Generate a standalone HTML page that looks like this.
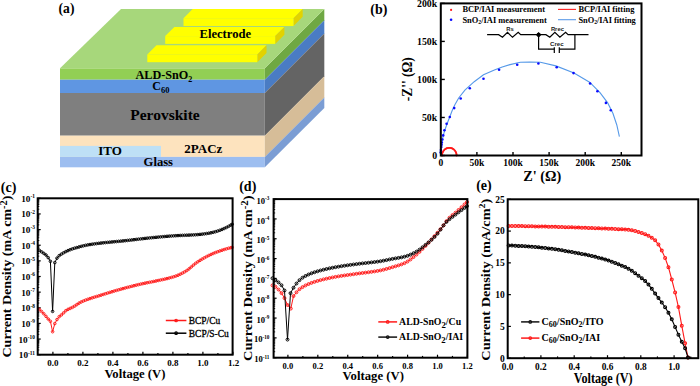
<!DOCTYPE html>
<html><head><meta charset="utf-8"><style>
html,body{margin:0;padding:0;background:#fff;}
svg{display:block;font-family:"Liberation Serif", serif;}
</style></head><body>
<svg width="700" height="386" viewBox="0 0 700 386">
<rect x="60" y="68.3" width="204.8" height="11.4" fill="#92cf54"/>
<polygon points="264.8,68.3 324.3,8.9 324.3,20.3 264.8,79.7" fill="#6fa843"/>
<rect x="60" y="79.7" width="204.8" height="13.3" fill="#5f96e2"/>
<polygon points="264.8,79.7 324.3,20.3 324.3,33.6 264.8,93" fill="#4a7cc4"/>
<rect x="60" y="93" width="204.8" height="42.7" fill="#7f7f7f"/>
<polygon points="264.8,93 324.3,33.6 324.3,76.3 264.8,135.7" fill="#646464"/>
<rect x="60" y="135.7" width="204.8" height="21.2" fill="#fde3be"/>
<polygon points="264.8,135.7 324.3,76.3 324.3,97.5 264.8,156.9" fill="#d6bd98"/>
<rect x="60" y="156.9" width="204.8" height="10.4" fill="#9dbef0"/>
<polygon points="264.8,156.9 324.3,97.5 324.3,107.9 264.8,167.3" fill="#7b9dd4"/>
<rect x="60" y="145.9" width="101" height="11" fill="#bee0f6"/>
<polygon points="60,68.3 264.8,68.3 324.3,8.9 121,8.9" fill="#a7d77b"/>
<polygon points="183.5,18.2 293.5,18.2 302.7,9 192.7,9" fill="#ffff00"/>
<polygon points="293.5,18.2 302.7,9 302.7,16.8 293.5,26" fill="#e2d200"/>
<rect x="183.5" y="18.2" width="110" height="7.8" fill="#ffff00"/>
<polygon points="165.2,36.1 275.2,36.1 284.4,26.9 174.4,26.9" fill="#ffff00"/>
<polygon points="275.2,36.1 284.4,26.9 284.4,34.7 275.2,43.9" fill="#e2d200"/>
<rect x="165.2" y="36.1" width="110" height="7.8" fill="#ffff00"/>
<polygon points="147.3,54.4 257.3,54.4 266.5,45.2 156.5,45.2" fill="#ffff00"/>
<polygon points="257.3,54.4 266.5,45.2 266.5,53 257.3,62.2" fill="#e2d200"/>
<rect x="147.3" y="54.4" width="110" height="7.8" fill="#ffff00"/>
<text x="58.6" y="12.7" font-size="13.6" font-weight="bold" text-anchor="start" >(a)</text>
<text x="225.3" y="37.7" font-size="12.6" font-weight="bold" text-anchor="middle" >Electrode</text>
<text x="135.5" y="78.9" font-size="12.2" font-weight="bold" text-anchor="start" >ALD-SnO<tspan font-size="8" dy="3.2">2</tspan></text>
<text x="152.3" y="90" font-size="12" font-weight="bold" text-anchor="start" >C<tspan font-size="8.5" dy="2.5">60</tspan></text>
<text x="165" y="120" font-size="15.5" font-weight="bold" text-anchor="middle" >Perovskite</text>
<text x="110" y="155" font-size="13" font-weight="bold" text-anchor="middle" >ITO</text>
<text x="203.3" y="152.6" font-size="13" font-weight="bold" text-anchor="middle" >2PACz</text>
<text x="158.3" y="166.2" font-size="12.6" font-weight="bold" text-anchor="middle" >Glass</text>
<text x="370.3" y="13.6" font-size="14" font-weight="bold" text-anchor="start" >(b)</text>
<circle cx="442" cy="155.5" r="0.9" fill="#ff1a1a"/>
<circle cx="442.03" cy="154.83" r="0.9" fill="#ff1a1a"/>
<circle cx="442.11" cy="154.16" r="0.9" fill="#ff1a1a"/>
<circle cx="442.25" cy="153.51" r="0.9" fill="#ff1a1a"/>
<circle cx="442.44" cy="152.87" r="0.9" fill="#ff1a1a"/>
<circle cx="442.68" cy="152.25" r="0.9" fill="#ff1a1a"/>
<circle cx="442.98" cy="151.65" r="0.9" fill="#ff1a1a"/>
<circle cx="443.32" cy="151.08" r="0.9" fill="#ff1a1a"/>
<circle cx="443.71" cy="150.55" r="0.9" fill="#ff1a1a"/>
<circle cx="444.14" cy="150.06" r="0.9" fill="#ff1a1a"/>
<circle cx="444.61" cy="149.6" r="0.9" fill="#ff1a1a"/>
<circle cx="445.11" cy="149.19" r="0.9" fill="#ff1a1a"/>
<circle cx="445.65" cy="148.83" r="0.9" fill="#ff1a1a"/>
<circle cx="446.21" cy="148.52" r="0.9" fill="#ff1a1a"/>
<circle cx="446.8" cy="148.26" r="0.9" fill="#ff1a1a"/>
<circle cx="447.41" cy="148.06" r="0.9" fill="#ff1a1a"/>
<circle cx="448.03" cy="147.92" r="0.9" fill="#ff1a1a"/>
<circle cx="448.66" cy="147.83" r="0.9" fill="#ff1a1a"/>
<circle cx="449.3" cy="147.8" r="0.9" fill="#ff1a1a"/>
<circle cx="449.94" cy="147.83" r="0.9" fill="#ff1a1a"/>
<circle cx="450.57" cy="147.92" r="0.9" fill="#ff1a1a"/>
<circle cx="451.19" cy="148.06" r="0.9" fill="#ff1a1a"/>
<circle cx="451.8" cy="148.26" r="0.9" fill="#ff1a1a"/>
<circle cx="452.39" cy="148.52" r="0.9" fill="#ff1a1a"/>
<circle cx="452.95" cy="148.83" r="0.9" fill="#ff1a1a"/>
<circle cx="453.49" cy="149.19" r="0.9" fill="#ff1a1a"/>
<circle cx="453.99" cy="149.6" r="0.9" fill="#ff1a1a"/>
<circle cx="454.46" cy="150.06" r="0.9" fill="#ff1a1a"/>
<circle cx="454.89" cy="150.55" r="0.9" fill="#ff1a1a"/>
<circle cx="455.28" cy="151.08" r="0.9" fill="#ff1a1a"/>
<circle cx="455.62" cy="151.65" r="0.9" fill="#ff1a1a"/>
<circle cx="455.92" cy="152.25" r="0.9" fill="#ff1a1a"/>
<circle cx="456.16" cy="152.87" r="0.9" fill="#ff1a1a"/>
<circle cx="456.35" cy="153.51" r="0.9" fill="#ff1a1a"/>
<circle cx="456.49" cy="154.16" r="0.9" fill="#ff1a1a"/>
<circle cx="456.57" cy="154.83" r="0.9" fill="#ff1a1a"/>
<circle cx="456.6" cy="155.5" r="0.9" fill="#ff1a1a"/>
<polyline points="440.8,155.5 440.9,150 441.8,143 443,136.6 444.8,130.2 447.1,123.8 449.5,117.5 452.4,110 455,104.5 458.7,98 464.9,90.2 474.2,81.7 483.5,74.7 494.4,70 502.2,66.9 510,64.6 520.3,62.3 530,62 540.4,62.3 555.9,65.9 574,73.1 589.6,82.2 600,92.6 607.7,102.9 612.9,113.3 616.8,125 619.4,136.6" fill="none" stroke="#5599e8" stroke-width="1.1"/>
<circle cx="440.7" cy="152.4" r="1.3" fill="#0a0aff"/>
<circle cx="440.9" cy="150" r="1.3" fill="#0a0aff"/>
<circle cx="441.3" cy="147.1" r="1.3" fill="#0a0aff"/>
<circle cx="441.6" cy="144.8" r="1.3" fill="#0a0aff"/>
<circle cx="441.8" cy="142.5" r="1.3" fill="#0a0aff"/>
<circle cx="442.4" cy="139.5" r="1.3" fill="#0a0aff"/>
<circle cx="443.2" cy="135.4" r="1.3" fill="#0a0aff"/>
<circle cx="444.4" cy="130.2" r="1.3" fill="#0a0aff"/>
<circle cx="446.6" cy="123.8" r="1.3" fill="#0a0aff"/>
<circle cx="449.8" cy="117" r="1.3" fill="#0a0aff"/>
<circle cx="454.2" cy="108.1" r="1.3" fill="#0a0aff"/>
<circle cx="460.7" cy="98.5" r="1.3" fill="#0a0aff"/>
<circle cx="469.8" cy="88.2" r="1.3" fill="#0a0aff"/>
<circle cx="483.5" cy="78.8" r="1.3" fill="#0a0aff"/>
<circle cx="499.1" cy="69.8" r="1.3" fill="#0a0aff"/>
<circle cx="517.2" cy="64.8" r="1.3" fill="#0a0aff"/>
<circle cx="538.4" cy="63.5" r="1.3" fill="#0a0aff"/>
<circle cx="556.7" cy="67.2" r="1.3" fill="#0a0aff"/>
<circle cx="573.5" cy="73.1" r="1.3" fill="#0a0aff"/>
<circle cx="590.1" cy="83.5" r="1.3" fill="#0a0aff"/>
<circle cx="597.4" cy="91.3" r="1.3" fill="#0a0aff"/>
<circle cx="605.9" cy="102.9" r="1.3" fill="#0a0aff"/>
<circle cx="610.8" cy="110.2" r="1.3" fill="#0a0aff"/>
<rect x="440.8" y="3.4" width="200.7" height="152.1" fill="none" stroke="#000" stroke-width="2"/>
<line x1="440.8" y1="155.5" x2="444.8" y2="155.5" stroke="#000" stroke-width="1.4"/>
<text x="437.2" y="158.9" font-size="9.8" font-weight="bold" text-anchor="end" >0</text>
<line x1="440.8" y1="117.47" x2="444.8" y2="117.47" stroke="#000" stroke-width="1.4"/>
<text x="437.2" y="120.87" font-size="9.8" font-weight="bold" text-anchor="end" >50k</text>
<line x1="440.8" y1="79.44" x2="444.8" y2="79.44" stroke="#000" stroke-width="1.4"/>
<text x="437.2" y="82.84" font-size="9.8" font-weight="bold" text-anchor="end" >100k</text>
<line x1="440.8" y1="41.41" x2="444.8" y2="41.41" stroke="#000" stroke-width="1.4"/>
<text x="437.2" y="44.81" font-size="9.8" font-weight="bold" text-anchor="end" >150k</text>
<line x1="440.8" y1="3.38" x2="444.8" y2="3.38" stroke="#000" stroke-width="1.4"/>
<text x="437.2" y="6.78" font-size="9.8" font-weight="bold" text-anchor="end" >200k</text>
<line x1="440.8" y1="155.5" x2="440.8" y2="152" stroke="#000" stroke-width="1.4"/>
<text x="440.8" y="166.3" font-size="9.5" font-weight="bold" text-anchor="middle" >0</text>
<line x1="476.9" y1="155.5" x2="476.9" y2="152" stroke="#000" stroke-width="1.4"/>
<text x="476.9" y="166.3" font-size="9.5" font-weight="bold" text-anchor="middle" >50k</text>
<line x1="513" y1="155.5" x2="513" y2="152" stroke="#000" stroke-width="1.4"/>
<text x="513" y="166.3" font-size="9.5" font-weight="bold" text-anchor="middle" >100k</text>
<line x1="549.1" y1="155.5" x2="549.1" y2="152" stroke="#000" stroke-width="1.4"/>
<text x="549.1" y="166.3" font-size="9.5" font-weight="bold" text-anchor="middle" >150k</text>
<line x1="585.2" y1="155.5" x2="585.2" y2="152" stroke="#000" stroke-width="1.4"/>
<text x="585.2" y="166.3" font-size="9.5" font-weight="bold" text-anchor="middle" >200k</text>
<line x1="621.3" y1="155.5" x2="621.3" y2="152" stroke="#000" stroke-width="1.4"/>
<text x="621.3" y="166.3" font-size="9.5" font-weight="bold" text-anchor="middle" >250k</text>
<text x="542.2" y="180.6" font-size="15.5" font-weight="bold" text-anchor="middle" textLength="38" lengthAdjust="spacingAndGlyphs" >Z' (&#937;)</text>
<text x="0" y="0" font-size="14.5" font-weight="bold" text-anchor="middle" textLength="44" lengthAdjust="spacingAndGlyphs" transform="translate(411.8,79.2) rotate(-90)">-Z'' (&#937;)</text>
<circle cx="451.1" cy="9.9" r="1.1" fill="#ff1a1a"/>
<circle cx="451.1" cy="19.7" r="1.3" fill="#0a0aff"/>
<text x="462.4" y="12.3" font-size="8" font-weight="bold" text-anchor="start" textLength="82.6" lengthAdjust="spacingAndGlyphs" >BCP/IAI measurement</text>
<text x="462.4" y="22.6" font-size="8" font-weight="bold" text-anchor="start" textLength="84.4" lengthAdjust="spacingAndGlyphs" >SnO<tspan font-size="5.5" dy="1.8">2</tspan><tspan dy="-1.8">/IAI measurement</tspan></text>
<line x1="558" y1="9.4" x2="576" y2="9.4" stroke="#ff2020" stroke-width="1.1"/>
<line x1="558" y1="19.7" x2="576" y2="19.7" stroke="#5c9ae8" stroke-width="1.1"/>
<text x="578.4" y="12.3" font-size="8" font-weight="bold" text-anchor="start" textLength="56" lengthAdjust="spacingAndGlyphs" >BCP/IAI fitting</text>
<text x="578.4" y="22.6" font-size="8" font-weight="bold" text-anchor="start" textLength="57.4" lengthAdjust="spacingAndGlyphs" >SnO<tspan font-size="5.5" dy="1.8">2</tspan><tspan dy="-1.8">/IAI fitting</tspan></text>
<polyline points="487.1,34.7 498.6,34.7 502.49,37.3 507.51,32.3 512.52,37.3 518.2,32.3 520.7,34.7 545.9,34.7 549.81,37.3 554.85,32.3 559.89,37.3 565.59,32.3 568.1,34.7 588.5,34.7" fill="none" stroke="#000" stroke-width="1.2"/>
<polygon points="538.6,32 541.3,34.7 538.6,37.4 535.9,34.7" fill="#000"/>
<circle cx="538.6" cy="34.7" r="2" fill="#000"/>
<polyline points="538.6,34.7 538.6,49.2 554.3,49.2" fill="none" stroke="#000" stroke-width="1.2"/>
<polyline points="559.3,49.2 574.9,49.2 574.9,34.7" fill="none" stroke="#000" stroke-width="1.2"/>
<line x1="554.3" y1="47.2" x2="554.3" y2="52.9" stroke="#000" stroke-width="1.2"/>
<line x1="559.3" y1="47.2" x2="559.3" y2="52.9" stroke="#000" stroke-width="1.2"/>
<text x="510" y="30.6" font-size="5.8" font-weight="bold" text-anchor="middle" fill="#222" font-family="'Liberation Sans', sans-serif" >Rs</text>
<text x="557.4" y="30.6" font-size="5.8" font-weight="bold" text-anchor="middle" fill="#222" textLength="13" lengthAdjust="spacingAndGlyphs" font-family="'Liberation Sans', sans-serif" >Rrec</text>
<text x="556.8" y="45.6" font-size="5.8" font-weight="bold" text-anchor="middle" fill="#222" textLength="13.6" lengthAdjust="spacingAndGlyphs" font-family="'Liberation Sans', sans-serif" >Crec</text>
<text x="0.8" y="191.8" font-size="14" font-weight="bold" text-anchor="start" >(c)</text>
<line x1="37.7" y1="198.3" x2="40.7" y2="198.3" stroke="#000" stroke-width="1.2"/>
<text x="34.9" y="201.8" font-size="9.2" font-weight="bold" text-anchor="end">10<tspan font-size="5.4" dy="-3.6">-1</tspan></text>
<line x1="37.7" y1="209.23" x2="39.3" y2="209.23" stroke="#000" stroke-width="0.9"/>
<line x1="37.7" y1="206.48" x2="39.3" y2="206.48" stroke="#000" stroke-width="0.9"/>
<line x1="37.7" y1="204.52" x2="39.3" y2="204.52" stroke="#000" stroke-width="0.9"/>
<line x1="37.7" y1="203.01" x2="39.3" y2="203.01" stroke="#000" stroke-width="0.9"/>
<line x1="37.7" y1="201.77" x2="39.3" y2="201.77" stroke="#000" stroke-width="0.9"/>
<line x1="37.7" y1="200.72" x2="39.3" y2="200.72" stroke="#000" stroke-width="0.9"/>
<line x1="37.7" y1="199.82" x2="39.3" y2="199.82" stroke="#000" stroke-width="0.9"/>
<line x1="37.7" y1="199.02" x2="39.3" y2="199.02" stroke="#000" stroke-width="0.9"/>
<line x1="37.7" y1="213.94" x2="40.7" y2="213.94" stroke="#000" stroke-width="1.2"/>
<text x="34.9" y="217.44" font-size="9.2" font-weight="bold" text-anchor="end">10<tspan font-size="5.4" dy="-3.6">-2</tspan></text>
<line x1="37.7" y1="224.87" x2="39.3" y2="224.87" stroke="#000" stroke-width="0.9"/>
<line x1="37.7" y1="222.12" x2="39.3" y2="222.12" stroke="#000" stroke-width="0.9"/>
<line x1="37.7" y1="220.16" x2="39.3" y2="220.16" stroke="#000" stroke-width="0.9"/>
<line x1="37.7" y1="218.65" x2="39.3" y2="218.65" stroke="#000" stroke-width="0.9"/>
<line x1="37.7" y1="217.41" x2="39.3" y2="217.41" stroke="#000" stroke-width="0.9"/>
<line x1="37.7" y1="216.36" x2="39.3" y2="216.36" stroke="#000" stroke-width="0.9"/>
<line x1="37.7" y1="215.46" x2="39.3" y2="215.46" stroke="#000" stroke-width="0.9"/>
<line x1="37.7" y1="214.66" x2="39.3" y2="214.66" stroke="#000" stroke-width="0.9"/>
<line x1="37.7" y1="229.58" x2="40.7" y2="229.58" stroke="#000" stroke-width="1.2"/>
<text x="34.9" y="233.08" font-size="9.2" font-weight="bold" text-anchor="end">10<tspan font-size="5.4" dy="-3.6">-3</tspan></text>
<line x1="37.7" y1="240.51" x2="39.3" y2="240.51" stroke="#000" stroke-width="0.9"/>
<line x1="37.7" y1="237.76" x2="39.3" y2="237.76" stroke="#000" stroke-width="0.9"/>
<line x1="37.7" y1="235.8" x2="39.3" y2="235.8" stroke="#000" stroke-width="0.9"/>
<line x1="37.7" y1="234.29" x2="39.3" y2="234.29" stroke="#000" stroke-width="0.9"/>
<line x1="37.7" y1="233.05" x2="39.3" y2="233.05" stroke="#000" stroke-width="0.9"/>
<line x1="37.7" y1="232" x2="39.3" y2="232" stroke="#000" stroke-width="0.9"/>
<line x1="37.7" y1="231.1" x2="39.3" y2="231.1" stroke="#000" stroke-width="0.9"/>
<line x1="37.7" y1="230.3" x2="39.3" y2="230.3" stroke="#000" stroke-width="0.9"/>
<line x1="37.7" y1="245.22" x2="40.7" y2="245.22" stroke="#000" stroke-width="1.2"/>
<text x="34.9" y="248.72" font-size="9.2" font-weight="bold" text-anchor="end">10<tspan font-size="5.4" dy="-3.6">-4</tspan></text>
<line x1="37.7" y1="256.15" x2="39.3" y2="256.15" stroke="#000" stroke-width="0.9"/>
<line x1="37.7" y1="253.4" x2="39.3" y2="253.4" stroke="#000" stroke-width="0.9"/>
<line x1="37.7" y1="251.44" x2="39.3" y2="251.44" stroke="#000" stroke-width="0.9"/>
<line x1="37.7" y1="249.93" x2="39.3" y2="249.93" stroke="#000" stroke-width="0.9"/>
<line x1="37.7" y1="248.69" x2="39.3" y2="248.69" stroke="#000" stroke-width="0.9"/>
<line x1="37.7" y1="247.64" x2="39.3" y2="247.64" stroke="#000" stroke-width="0.9"/>
<line x1="37.7" y1="246.74" x2="39.3" y2="246.74" stroke="#000" stroke-width="0.9"/>
<line x1="37.7" y1="245.94" x2="39.3" y2="245.94" stroke="#000" stroke-width="0.9"/>
<line x1="37.7" y1="260.86" x2="40.7" y2="260.86" stroke="#000" stroke-width="1.2"/>
<text x="34.9" y="264.36" font-size="9.2" font-weight="bold" text-anchor="end">10<tspan font-size="5.4" dy="-3.6">-5</tspan></text>
<line x1="37.7" y1="271.79" x2="39.3" y2="271.79" stroke="#000" stroke-width="0.9"/>
<line x1="37.7" y1="269.04" x2="39.3" y2="269.04" stroke="#000" stroke-width="0.9"/>
<line x1="37.7" y1="267.08" x2="39.3" y2="267.08" stroke="#000" stroke-width="0.9"/>
<line x1="37.7" y1="265.57" x2="39.3" y2="265.57" stroke="#000" stroke-width="0.9"/>
<line x1="37.7" y1="264.33" x2="39.3" y2="264.33" stroke="#000" stroke-width="0.9"/>
<line x1="37.7" y1="263.28" x2="39.3" y2="263.28" stroke="#000" stroke-width="0.9"/>
<line x1="37.7" y1="262.38" x2="39.3" y2="262.38" stroke="#000" stroke-width="0.9"/>
<line x1="37.7" y1="261.58" x2="39.3" y2="261.58" stroke="#000" stroke-width="0.9"/>
<line x1="37.7" y1="276.5" x2="40.7" y2="276.5" stroke="#000" stroke-width="1.2"/>
<text x="34.9" y="280" font-size="9.2" font-weight="bold" text-anchor="end">10<tspan font-size="5.4" dy="-3.6">-6</tspan></text>
<line x1="37.7" y1="287.43" x2="39.3" y2="287.43" stroke="#000" stroke-width="0.9"/>
<line x1="37.7" y1="284.68" x2="39.3" y2="284.68" stroke="#000" stroke-width="0.9"/>
<line x1="37.7" y1="282.72" x2="39.3" y2="282.72" stroke="#000" stroke-width="0.9"/>
<line x1="37.7" y1="281.21" x2="39.3" y2="281.21" stroke="#000" stroke-width="0.9"/>
<line x1="37.7" y1="279.97" x2="39.3" y2="279.97" stroke="#000" stroke-width="0.9"/>
<line x1="37.7" y1="278.92" x2="39.3" y2="278.92" stroke="#000" stroke-width="0.9"/>
<line x1="37.7" y1="278.02" x2="39.3" y2="278.02" stroke="#000" stroke-width="0.9"/>
<line x1="37.7" y1="277.22" x2="39.3" y2="277.22" stroke="#000" stroke-width="0.9"/>
<line x1="37.7" y1="292.14" x2="40.7" y2="292.14" stroke="#000" stroke-width="1.2"/>
<text x="34.9" y="295.64" font-size="9.2" font-weight="bold" text-anchor="end">10<tspan font-size="5.4" dy="-3.6">-7</tspan></text>
<line x1="37.7" y1="303.07" x2="39.3" y2="303.07" stroke="#000" stroke-width="0.9"/>
<line x1="37.7" y1="300.32" x2="39.3" y2="300.32" stroke="#000" stroke-width="0.9"/>
<line x1="37.7" y1="298.36" x2="39.3" y2="298.36" stroke="#000" stroke-width="0.9"/>
<line x1="37.7" y1="296.85" x2="39.3" y2="296.85" stroke="#000" stroke-width="0.9"/>
<line x1="37.7" y1="295.61" x2="39.3" y2="295.61" stroke="#000" stroke-width="0.9"/>
<line x1="37.7" y1="294.56" x2="39.3" y2="294.56" stroke="#000" stroke-width="0.9"/>
<line x1="37.7" y1="293.66" x2="39.3" y2="293.66" stroke="#000" stroke-width="0.9"/>
<line x1="37.7" y1="292.86" x2="39.3" y2="292.86" stroke="#000" stroke-width="0.9"/>
<line x1="37.7" y1="307.78" x2="40.7" y2="307.78" stroke="#000" stroke-width="1.2"/>
<text x="34.9" y="311.28" font-size="9.2" font-weight="bold" text-anchor="end">10<tspan font-size="5.4" dy="-3.6">-8</tspan></text>
<line x1="37.7" y1="318.71" x2="39.3" y2="318.71" stroke="#000" stroke-width="0.9"/>
<line x1="37.7" y1="315.96" x2="39.3" y2="315.96" stroke="#000" stroke-width="0.9"/>
<line x1="37.7" y1="314" x2="39.3" y2="314" stroke="#000" stroke-width="0.9"/>
<line x1="37.7" y1="312.49" x2="39.3" y2="312.49" stroke="#000" stroke-width="0.9"/>
<line x1="37.7" y1="311.25" x2="39.3" y2="311.25" stroke="#000" stroke-width="0.9"/>
<line x1="37.7" y1="310.2" x2="39.3" y2="310.2" stroke="#000" stroke-width="0.9"/>
<line x1="37.7" y1="309.3" x2="39.3" y2="309.3" stroke="#000" stroke-width="0.9"/>
<line x1="37.7" y1="308.5" x2="39.3" y2="308.5" stroke="#000" stroke-width="0.9"/>
<line x1="37.7" y1="323.42" x2="40.7" y2="323.42" stroke="#000" stroke-width="1.2"/>
<text x="34.9" y="326.92" font-size="9.2" font-weight="bold" text-anchor="end">10<tspan font-size="5.4" dy="-3.6">-9</tspan></text>
<line x1="37.7" y1="334.35" x2="39.3" y2="334.35" stroke="#000" stroke-width="0.9"/>
<line x1="37.7" y1="331.6" x2="39.3" y2="331.6" stroke="#000" stroke-width="0.9"/>
<line x1="37.7" y1="329.64" x2="39.3" y2="329.64" stroke="#000" stroke-width="0.9"/>
<line x1="37.7" y1="328.13" x2="39.3" y2="328.13" stroke="#000" stroke-width="0.9"/>
<line x1="37.7" y1="326.89" x2="39.3" y2="326.89" stroke="#000" stroke-width="0.9"/>
<line x1="37.7" y1="325.84" x2="39.3" y2="325.84" stroke="#000" stroke-width="0.9"/>
<line x1="37.7" y1="324.94" x2="39.3" y2="324.94" stroke="#000" stroke-width="0.9"/>
<line x1="37.7" y1="324.14" x2="39.3" y2="324.14" stroke="#000" stroke-width="0.9"/>
<line x1="37.7" y1="339.06" x2="40.7" y2="339.06" stroke="#000" stroke-width="1.2"/>
<text x="34.9" y="342.56" font-size="9.2" font-weight="bold" text-anchor="end">10<tspan font-size="5.4" dy="-3.6">-10</tspan></text>
<line x1="37.7" y1="349.99" x2="39.3" y2="349.99" stroke="#000" stroke-width="0.9"/>
<line x1="37.7" y1="347.24" x2="39.3" y2="347.24" stroke="#000" stroke-width="0.9"/>
<line x1="37.7" y1="345.28" x2="39.3" y2="345.28" stroke="#000" stroke-width="0.9"/>
<line x1="37.7" y1="343.77" x2="39.3" y2="343.77" stroke="#000" stroke-width="0.9"/>
<line x1="37.7" y1="342.53" x2="39.3" y2="342.53" stroke="#000" stroke-width="0.9"/>
<line x1="37.7" y1="341.48" x2="39.3" y2="341.48" stroke="#000" stroke-width="0.9"/>
<line x1="37.7" y1="340.58" x2="39.3" y2="340.58" stroke="#000" stroke-width="0.9"/>
<line x1="37.7" y1="339.78" x2="39.3" y2="339.78" stroke="#000" stroke-width="0.9"/>
<line x1="37.7" y1="354.7" x2="40.7" y2="354.7" stroke="#000" stroke-width="1.2"/>
<text x="34.9" y="358.2" font-size="9.2" font-weight="bold" text-anchor="end">10<tspan font-size="5.4" dy="-3.6">-11</tspan></text>
<line x1="52.9" y1="354.7" x2="52.9" y2="351.7" stroke="#000" stroke-width="1.2"/>
<text x="52.9" y="365.6" font-size="9" font-weight="bold" text-anchor="middle" >0.0</text>
<line x1="67.9" y1="354.7" x2="67.9" y2="352.9" stroke="#000" stroke-width="1.2"/>
<line x1="82.9" y1="354.7" x2="82.9" y2="351.7" stroke="#000" stroke-width="1.2"/>
<text x="82.9" y="365.6" font-size="9" font-weight="bold" text-anchor="middle" >0.2</text>
<line x1="97.9" y1="354.7" x2="97.9" y2="352.9" stroke="#000" stroke-width="1.2"/>
<line x1="112.9" y1="354.7" x2="112.9" y2="351.7" stroke="#000" stroke-width="1.2"/>
<text x="112.9" y="365.6" font-size="9" font-weight="bold" text-anchor="middle" >0.4</text>
<line x1="127.9" y1="354.7" x2="127.9" y2="352.9" stroke="#000" stroke-width="1.2"/>
<line x1="142.9" y1="354.7" x2="142.9" y2="351.7" stroke="#000" stroke-width="1.2"/>
<text x="142.9" y="365.6" font-size="9" font-weight="bold" text-anchor="middle" >0.6</text>
<line x1="157.9" y1="354.7" x2="157.9" y2="352.9" stroke="#000" stroke-width="1.2"/>
<line x1="172.9" y1="354.7" x2="172.9" y2="351.7" stroke="#000" stroke-width="1.2"/>
<text x="172.9" y="365.6" font-size="9" font-weight="bold" text-anchor="middle" >0.8</text>
<line x1="187.9" y1="354.7" x2="187.9" y2="352.9" stroke="#000" stroke-width="1.2"/>
<line x1="202.9" y1="354.7" x2="202.9" y2="351.7" stroke="#000" stroke-width="1.2"/>
<text x="202.9" y="365.6" font-size="9" font-weight="bold" text-anchor="middle" >1.0</text>
<line x1="217.9" y1="354.7" x2="217.9" y2="352.9" stroke="#000" stroke-width="1.2"/>
<line x1="232.9" y1="354.7" x2="232.9" y2="351.7" stroke="#000" stroke-width="1.2"/>
<text x="233.5" y="365.6" font-size="9" font-weight="bold" text-anchor="middle" >1.2</text>
<polyline points="39.4,309.42 41.6,311.52 43.8,313.79 46,316.34 48.2,319.02 50.4,321.29 52.6,331.7 54.8,323.57 57,319.55 59.2,316.68 61.4,314.91 63.6,312.87 65.8,310.7 68,309.39 70.2,308.38 72.4,307.38 74.6,306.13 76.8,304.63 79,303.14 81.2,301.97 83.4,301 85.6,300.12 87.8,299.32 90,298.57 92.2,297.86 94.4,297.18 96.6,296.51 98.8,295.85 101,295.16 103.2,294.46 105.4,293.76 107.6,293.07 109.8,292.4 112,291.73 114.2,291.07 116.4,290.43 118.6,289.8 120.8,289.18 123,288.58 125.2,287.99 127.4,287.4 129.6,286.83 131.8,286.27 134,285.71 136.2,285.17 138.4,284.65 140.6,284.14 142.8,283.64 145,283.18 147.2,282.74 149.4,282.32 151.6,281.9 153.8,281.46 156,280.98 158.2,280.51 160.4,280.05 162.6,279.58 164.8,279.09 167,278.58 169.2,278.03 171.4,277.43 173.6,276.78 175.8,276.07 178,275.23 180.2,274.24 182.4,273.12 184.6,271.89 186.8,270.55 189,268.91 191.2,267.04 193.4,265.13 195.6,263.35 197.8,261.82 200,260.39 202.2,259.04 204.4,257.78 206.6,256.6 208.8,255.5 211,254.46 213.2,253.48 215.4,252.58 217.6,251.76 219.8,250.98 222,250.24 224.2,249.53 226.4,248.87 228.6,248.26 230.8,247.72 232.2,247.4" fill="none" stroke="#ff1a1a" stroke-width="1.0"/>
<circle cx="39.4" cy="309.42" r="1.3" fill="none" stroke="#ff1a1a" stroke-width="0.95"/>
<circle cx="41.6" cy="311.52" r="1.3" fill="none" stroke="#ff1a1a" stroke-width="0.95"/>
<circle cx="43.8" cy="313.79" r="1.3" fill="none" stroke="#ff1a1a" stroke-width="0.95"/>
<circle cx="46" cy="316.34" r="1.3" fill="none" stroke="#ff1a1a" stroke-width="0.95"/>
<circle cx="48.2" cy="319.02" r="1.3" fill="none" stroke="#ff1a1a" stroke-width="0.95"/>
<circle cx="50.4" cy="321.29" r="1.3" fill="none" stroke="#ff1a1a" stroke-width="0.95"/>
<circle cx="52.6" cy="331.7" r="1.3" fill="none" stroke="#ff1a1a" stroke-width="0.95"/>
<circle cx="54.8" cy="323.57" r="1.3" fill="none" stroke="#ff1a1a" stroke-width="0.95"/>
<circle cx="57" cy="319.55" r="1.3" fill="none" stroke="#ff1a1a" stroke-width="0.95"/>
<circle cx="59.2" cy="316.68" r="1.3" fill="none" stroke="#ff1a1a" stroke-width="0.95"/>
<circle cx="61.4" cy="314.91" r="1.3" fill="none" stroke="#ff1a1a" stroke-width="0.95"/>
<circle cx="63.6" cy="312.87" r="1.3" fill="none" stroke="#ff1a1a" stroke-width="0.95"/>
<circle cx="65.8" cy="310.7" r="1.3" fill="none" stroke="#ff1a1a" stroke-width="0.95"/>
<circle cx="68" cy="309.39" r="1.3" fill="none" stroke="#ff1a1a" stroke-width="0.95"/>
<circle cx="70.2" cy="308.38" r="1.3" fill="none" stroke="#ff1a1a" stroke-width="0.95"/>
<circle cx="72.4" cy="307.38" r="1.3" fill="none" stroke="#ff1a1a" stroke-width="0.95"/>
<circle cx="74.6" cy="306.13" r="1.3" fill="none" stroke="#ff1a1a" stroke-width="0.95"/>
<circle cx="76.8" cy="304.63" r="1.3" fill="none" stroke="#ff1a1a" stroke-width="0.95"/>
<circle cx="79" cy="303.14" r="1.3" fill="none" stroke="#ff1a1a" stroke-width="0.95"/>
<circle cx="81.2" cy="301.97" r="1.3" fill="none" stroke="#ff1a1a" stroke-width="0.95"/>
<circle cx="83.4" cy="301" r="1.3" fill="none" stroke="#ff1a1a" stroke-width="0.95"/>
<circle cx="85.6" cy="300.12" r="1.3" fill="none" stroke="#ff1a1a" stroke-width="0.95"/>
<circle cx="87.8" cy="299.32" r="1.3" fill="none" stroke="#ff1a1a" stroke-width="0.95"/>
<circle cx="90" cy="298.57" r="1.3" fill="none" stroke="#ff1a1a" stroke-width="0.95"/>
<circle cx="92.2" cy="297.86" r="1.3" fill="none" stroke="#ff1a1a" stroke-width="0.95"/>
<circle cx="94.4" cy="297.18" r="1.3" fill="none" stroke="#ff1a1a" stroke-width="0.95"/>
<circle cx="96.6" cy="296.51" r="1.3" fill="none" stroke="#ff1a1a" stroke-width="0.95"/>
<circle cx="98.8" cy="295.85" r="1.3" fill="none" stroke="#ff1a1a" stroke-width="0.95"/>
<circle cx="101" cy="295.16" r="1.3" fill="none" stroke="#ff1a1a" stroke-width="0.95"/>
<circle cx="103.2" cy="294.46" r="1.3" fill="none" stroke="#ff1a1a" stroke-width="0.95"/>
<circle cx="105.4" cy="293.76" r="1.3" fill="none" stroke="#ff1a1a" stroke-width="0.95"/>
<circle cx="107.6" cy="293.07" r="1.3" fill="none" stroke="#ff1a1a" stroke-width="0.95"/>
<circle cx="109.8" cy="292.4" r="1.3" fill="none" stroke="#ff1a1a" stroke-width="0.95"/>
<circle cx="112" cy="291.73" r="1.3" fill="none" stroke="#ff1a1a" stroke-width="0.95"/>
<circle cx="114.2" cy="291.07" r="1.3" fill="none" stroke="#ff1a1a" stroke-width="0.95"/>
<circle cx="116.4" cy="290.43" r="1.3" fill="none" stroke="#ff1a1a" stroke-width="0.95"/>
<circle cx="118.6" cy="289.8" r="1.3" fill="none" stroke="#ff1a1a" stroke-width="0.95"/>
<circle cx="120.8" cy="289.18" r="1.3" fill="none" stroke="#ff1a1a" stroke-width="0.95"/>
<circle cx="123" cy="288.58" r="1.3" fill="none" stroke="#ff1a1a" stroke-width="0.95"/>
<circle cx="125.2" cy="287.99" r="1.3" fill="none" stroke="#ff1a1a" stroke-width="0.95"/>
<circle cx="127.4" cy="287.4" r="1.3" fill="none" stroke="#ff1a1a" stroke-width="0.95"/>
<circle cx="129.6" cy="286.83" r="1.3" fill="none" stroke="#ff1a1a" stroke-width="0.95"/>
<circle cx="131.8" cy="286.27" r="1.3" fill="none" stroke="#ff1a1a" stroke-width="0.95"/>
<circle cx="134" cy="285.71" r="1.3" fill="none" stroke="#ff1a1a" stroke-width="0.95"/>
<circle cx="136.2" cy="285.17" r="1.3" fill="none" stroke="#ff1a1a" stroke-width="0.95"/>
<circle cx="138.4" cy="284.65" r="1.3" fill="none" stroke="#ff1a1a" stroke-width="0.95"/>
<circle cx="140.6" cy="284.14" r="1.3" fill="none" stroke="#ff1a1a" stroke-width="0.95"/>
<circle cx="142.8" cy="283.64" r="1.3" fill="none" stroke="#ff1a1a" stroke-width="0.95"/>
<circle cx="145" cy="283.18" r="1.3" fill="none" stroke="#ff1a1a" stroke-width="0.95"/>
<circle cx="147.2" cy="282.74" r="1.3" fill="none" stroke="#ff1a1a" stroke-width="0.95"/>
<circle cx="149.4" cy="282.32" r="1.3" fill="none" stroke="#ff1a1a" stroke-width="0.95"/>
<circle cx="151.6" cy="281.9" r="1.3" fill="none" stroke="#ff1a1a" stroke-width="0.95"/>
<circle cx="153.8" cy="281.46" r="1.3" fill="none" stroke="#ff1a1a" stroke-width="0.95"/>
<circle cx="156" cy="280.98" r="1.3" fill="none" stroke="#ff1a1a" stroke-width="0.95"/>
<circle cx="158.2" cy="280.51" r="1.3" fill="none" stroke="#ff1a1a" stroke-width="0.95"/>
<circle cx="160.4" cy="280.05" r="1.3" fill="none" stroke="#ff1a1a" stroke-width="0.95"/>
<circle cx="162.6" cy="279.58" r="1.3" fill="none" stroke="#ff1a1a" stroke-width="0.95"/>
<circle cx="164.8" cy="279.09" r="1.3" fill="none" stroke="#ff1a1a" stroke-width="0.95"/>
<circle cx="167" cy="278.58" r="1.3" fill="none" stroke="#ff1a1a" stroke-width="0.95"/>
<circle cx="169.2" cy="278.03" r="1.3" fill="none" stroke="#ff1a1a" stroke-width="0.95"/>
<circle cx="171.4" cy="277.43" r="1.3" fill="none" stroke="#ff1a1a" stroke-width="0.95"/>
<circle cx="173.6" cy="276.78" r="1.3" fill="none" stroke="#ff1a1a" stroke-width="0.95"/>
<circle cx="175.8" cy="276.07" r="1.3" fill="none" stroke="#ff1a1a" stroke-width="0.95"/>
<circle cx="178" cy="275.23" r="1.3" fill="none" stroke="#ff1a1a" stroke-width="0.95"/>
<circle cx="180.2" cy="274.24" r="1.3" fill="none" stroke="#ff1a1a" stroke-width="0.95"/>
<circle cx="182.4" cy="273.12" r="1.3" fill="none" stroke="#ff1a1a" stroke-width="0.95"/>
<circle cx="184.6" cy="271.89" r="1.3" fill="none" stroke="#ff1a1a" stroke-width="0.95"/>
<circle cx="186.8" cy="270.55" r="1.3" fill="none" stroke="#ff1a1a" stroke-width="0.95"/>
<circle cx="189" cy="268.91" r="1.3" fill="none" stroke="#ff1a1a" stroke-width="0.95"/>
<circle cx="191.2" cy="267.04" r="1.3" fill="none" stroke="#ff1a1a" stroke-width="0.95"/>
<circle cx="193.4" cy="265.13" r="1.3" fill="none" stroke="#ff1a1a" stroke-width="0.95"/>
<circle cx="195.6" cy="263.35" r="1.3" fill="none" stroke="#ff1a1a" stroke-width="0.95"/>
<circle cx="197.8" cy="261.82" r="1.3" fill="none" stroke="#ff1a1a" stroke-width="0.95"/>
<circle cx="200" cy="260.39" r="1.3" fill="none" stroke="#ff1a1a" stroke-width="0.95"/>
<circle cx="202.2" cy="259.04" r="1.3" fill="none" stroke="#ff1a1a" stroke-width="0.95"/>
<circle cx="204.4" cy="257.78" r="1.3" fill="none" stroke="#ff1a1a" stroke-width="0.95"/>
<circle cx="206.6" cy="256.6" r="1.3" fill="none" stroke="#ff1a1a" stroke-width="0.95"/>
<circle cx="208.8" cy="255.5" r="1.3" fill="none" stroke="#ff1a1a" stroke-width="0.95"/>
<circle cx="211" cy="254.46" r="1.3" fill="none" stroke="#ff1a1a" stroke-width="0.95"/>
<circle cx="213.2" cy="253.48" r="1.3" fill="none" stroke="#ff1a1a" stroke-width="0.95"/>
<circle cx="215.4" cy="252.58" r="1.3" fill="none" stroke="#ff1a1a" stroke-width="0.95"/>
<circle cx="217.6" cy="251.76" r="1.3" fill="none" stroke="#ff1a1a" stroke-width="0.95"/>
<circle cx="219.8" cy="250.98" r="1.3" fill="none" stroke="#ff1a1a" stroke-width="0.95"/>
<circle cx="222" cy="250.24" r="1.3" fill="none" stroke="#ff1a1a" stroke-width="0.95"/>
<circle cx="224.2" cy="249.53" r="1.3" fill="none" stroke="#ff1a1a" stroke-width="0.95"/>
<circle cx="226.4" cy="248.87" r="1.3" fill="none" stroke="#ff1a1a" stroke-width="0.95"/>
<circle cx="228.6" cy="248.26" r="1.3" fill="none" stroke="#ff1a1a" stroke-width="0.95"/>
<circle cx="230.8" cy="247.72" r="1.3" fill="none" stroke="#ff1a1a" stroke-width="0.95"/>
<circle cx="232.2" cy="247.4" r="1.3" fill="none" stroke="#ff1a1a" stroke-width="0.95"/>
<polyline points="39.4,250.37 41.6,251.87 43.8,253.37 46,255.02 48.2,257.65 50.4,261.32 52.6,311.4 54.8,262.59 57,258.14 59.2,255.65 61.4,254.12 63.6,252.78 65.8,251.62 68,250.59 70.2,249.67 72.4,248.87 74.6,248.2 76.8,247.59 79,246.97 81.2,246.36 83.4,245.81 85.6,245.33 87.8,244.9 90,244.53 92.2,244.2 94.4,243.9 96.6,243.6 98.8,243.32 101,243.06 103.2,242.82 105.4,242.59 107.6,242.37 109.8,242.17 112,241.96 114.2,241.76 116.4,241.56 118.6,241.35 120.8,241.14 123,240.92 125.2,240.69 127.4,240.45 129.6,240.2 131.8,239.95 134,239.7 136.2,239.44 138.4,239.18 140.6,238.93 142.8,238.68 145,238.43 147.2,238.19 149.4,237.96 151.6,237.73 153.8,237.51 156,237.31 158.2,237.1 160.4,236.9 162.6,236.71 164.8,236.51 167,236.33 169.2,236.15 171.4,235.99 173.6,235.83 175.8,235.69 178,235.57 180.2,235.47 182.4,235.37 184.6,235.29 186.8,235.2 189,235.11 191.2,235.01 193.4,234.9 195.6,234.76 197.8,234.6 200,234.4 202.2,234.15 204.4,233.88 206.6,233.56 208.8,233.22 211,232.81 213.2,232.3 215.4,231.72 217.6,231.08 219.8,230.32 222,229.45 224.2,228.49 226.4,227.48 228.6,226.35 230.8,225.12 232.2,224.3" fill="none" stroke="#000" stroke-width="1.0"/>
<circle cx="39.4" cy="250.37" r="1.3" fill="none" stroke="#000" stroke-width="0.95"/>
<circle cx="41.6" cy="251.87" r="1.3" fill="none" stroke="#000" stroke-width="0.95"/>
<circle cx="43.8" cy="253.37" r="1.3" fill="none" stroke="#000" stroke-width="0.95"/>
<circle cx="46" cy="255.02" r="1.3" fill="none" stroke="#000" stroke-width="0.95"/>
<circle cx="48.2" cy="257.65" r="1.3" fill="none" stroke="#000" stroke-width="0.95"/>
<circle cx="50.4" cy="261.32" r="1.3" fill="none" stroke="#000" stroke-width="0.95"/>
<circle cx="52.6" cy="311.4" r="1.3" fill="none" stroke="#000" stroke-width="0.95"/>
<circle cx="54.8" cy="262.59" r="1.3" fill="none" stroke="#000" stroke-width="0.95"/>
<circle cx="57" cy="258.14" r="1.3" fill="none" stroke="#000" stroke-width="0.95"/>
<circle cx="59.2" cy="255.65" r="1.3" fill="none" stroke="#000" stroke-width="0.95"/>
<circle cx="61.4" cy="254.12" r="1.3" fill="none" stroke="#000" stroke-width="0.95"/>
<circle cx="63.6" cy="252.78" r="1.3" fill="none" stroke="#000" stroke-width="0.95"/>
<circle cx="65.8" cy="251.62" r="1.3" fill="none" stroke="#000" stroke-width="0.95"/>
<circle cx="68" cy="250.59" r="1.3" fill="none" stroke="#000" stroke-width="0.95"/>
<circle cx="70.2" cy="249.67" r="1.3" fill="none" stroke="#000" stroke-width="0.95"/>
<circle cx="72.4" cy="248.87" r="1.3" fill="none" stroke="#000" stroke-width="0.95"/>
<circle cx="74.6" cy="248.2" r="1.3" fill="none" stroke="#000" stroke-width="0.95"/>
<circle cx="76.8" cy="247.59" r="1.3" fill="none" stroke="#000" stroke-width="0.95"/>
<circle cx="79" cy="246.97" r="1.3" fill="none" stroke="#000" stroke-width="0.95"/>
<circle cx="81.2" cy="246.36" r="1.3" fill="none" stroke="#000" stroke-width="0.95"/>
<circle cx="83.4" cy="245.81" r="1.3" fill="none" stroke="#000" stroke-width="0.95"/>
<circle cx="85.6" cy="245.33" r="1.3" fill="none" stroke="#000" stroke-width="0.95"/>
<circle cx="87.8" cy="244.9" r="1.3" fill="none" stroke="#000" stroke-width="0.95"/>
<circle cx="90" cy="244.53" r="1.3" fill="none" stroke="#000" stroke-width="0.95"/>
<circle cx="92.2" cy="244.2" r="1.3" fill="none" stroke="#000" stroke-width="0.95"/>
<circle cx="94.4" cy="243.9" r="1.3" fill="none" stroke="#000" stroke-width="0.95"/>
<circle cx="96.6" cy="243.6" r="1.3" fill="none" stroke="#000" stroke-width="0.95"/>
<circle cx="98.8" cy="243.32" r="1.3" fill="none" stroke="#000" stroke-width="0.95"/>
<circle cx="101" cy="243.06" r="1.3" fill="none" stroke="#000" stroke-width="0.95"/>
<circle cx="103.2" cy="242.82" r="1.3" fill="none" stroke="#000" stroke-width="0.95"/>
<circle cx="105.4" cy="242.59" r="1.3" fill="none" stroke="#000" stroke-width="0.95"/>
<circle cx="107.6" cy="242.37" r="1.3" fill="none" stroke="#000" stroke-width="0.95"/>
<circle cx="109.8" cy="242.17" r="1.3" fill="none" stroke="#000" stroke-width="0.95"/>
<circle cx="112" cy="241.96" r="1.3" fill="none" stroke="#000" stroke-width="0.95"/>
<circle cx="114.2" cy="241.76" r="1.3" fill="none" stroke="#000" stroke-width="0.95"/>
<circle cx="116.4" cy="241.56" r="1.3" fill="none" stroke="#000" stroke-width="0.95"/>
<circle cx="118.6" cy="241.35" r="1.3" fill="none" stroke="#000" stroke-width="0.95"/>
<circle cx="120.8" cy="241.14" r="1.3" fill="none" stroke="#000" stroke-width="0.95"/>
<circle cx="123" cy="240.92" r="1.3" fill="none" stroke="#000" stroke-width="0.95"/>
<circle cx="125.2" cy="240.69" r="1.3" fill="none" stroke="#000" stroke-width="0.95"/>
<circle cx="127.4" cy="240.45" r="1.3" fill="none" stroke="#000" stroke-width="0.95"/>
<circle cx="129.6" cy="240.2" r="1.3" fill="none" stroke="#000" stroke-width="0.95"/>
<circle cx="131.8" cy="239.95" r="1.3" fill="none" stroke="#000" stroke-width="0.95"/>
<circle cx="134" cy="239.7" r="1.3" fill="none" stroke="#000" stroke-width="0.95"/>
<circle cx="136.2" cy="239.44" r="1.3" fill="none" stroke="#000" stroke-width="0.95"/>
<circle cx="138.4" cy="239.18" r="1.3" fill="none" stroke="#000" stroke-width="0.95"/>
<circle cx="140.6" cy="238.93" r="1.3" fill="none" stroke="#000" stroke-width="0.95"/>
<circle cx="142.8" cy="238.68" r="1.3" fill="none" stroke="#000" stroke-width="0.95"/>
<circle cx="145" cy="238.43" r="1.3" fill="none" stroke="#000" stroke-width="0.95"/>
<circle cx="147.2" cy="238.19" r="1.3" fill="none" stroke="#000" stroke-width="0.95"/>
<circle cx="149.4" cy="237.96" r="1.3" fill="none" stroke="#000" stroke-width="0.95"/>
<circle cx="151.6" cy="237.73" r="1.3" fill="none" stroke="#000" stroke-width="0.95"/>
<circle cx="153.8" cy="237.51" r="1.3" fill="none" stroke="#000" stroke-width="0.95"/>
<circle cx="156" cy="237.31" r="1.3" fill="none" stroke="#000" stroke-width="0.95"/>
<circle cx="158.2" cy="237.1" r="1.3" fill="none" stroke="#000" stroke-width="0.95"/>
<circle cx="160.4" cy="236.9" r="1.3" fill="none" stroke="#000" stroke-width="0.95"/>
<circle cx="162.6" cy="236.71" r="1.3" fill="none" stroke="#000" stroke-width="0.95"/>
<circle cx="164.8" cy="236.51" r="1.3" fill="none" stroke="#000" stroke-width="0.95"/>
<circle cx="167" cy="236.33" r="1.3" fill="none" stroke="#000" stroke-width="0.95"/>
<circle cx="169.2" cy="236.15" r="1.3" fill="none" stroke="#000" stroke-width="0.95"/>
<circle cx="171.4" cy="235.99" r="1.3" fill="none" stroke="#000" stroke-width="0.95"/>
<circle cx="173.6" cy="235.83" r="1.3" fill="none" stroke="#000" stroke-width="0.95"/>
<circle cx="175.8" cy="235.69" r="1.3" fill="none" stroke="#000" stroke-width="0.95"/>
<circle cx="178" cy="235.57" r="1.3" fill="none" stroke="#000" stroke-width="0.95"/>
<circle cx="180.2" cy="235.47" r="1.3" fill="none" stroke="#000" stroke-width="0.95"/>
<circle cx="182.4" cy="235.37" r="1.3" fill="none" stroke="#000" stroke-width="0.95"/>
<circle cx="184.6" cy="235.29" r="1.3" fill="none" stroke="#000" stroke-width="0.95"/>
<circle cx="186.8" cy="235.2" r="1.3" fill="none" stroke="#000" stroke-width="0.95"/>
<circle cx="189" cy="235.11" r="1.3" fill="none" stroke="#000" stroke-width="0.95"/>
<circle cx="191.2" cy="235.01" r="1.3" fill="none" stroke="#000" stroke-width="0.95"/>
<circle cx="193.4" cy="234.9" r="1.3" fill="none" stroke="#000" stroke-width="0.95"/>
<circle cx="195.6" cy="234.76" r="1.3" fill="none" stroke="#000" stroke-width="0.95"/>
<circle cx="197.8" cy="234.6" r="1.3" fill="none" stroke="#000" stroke-width="0.95"/>
<circle cx="200" cy="234.4" r="1.3" fill="none" stroke="#000" stroke-width="0.95"/>
<circle cx="202.2" cy="234.15" r="1.3" fill="none" stroke="#000" stroke-width="0.95"/>
<circle cx="204.4" cy="233.88" r="1.3" fill="none" stroke="#000" stroke-width="0.95"/>
<circle cx="206.6" cy="233.56" r="1.3" fill="none" stroke="#000" stroke-width="0.95"/>
<circle cx="208.8" cy="233.22" r="1.3" fill="none" stroke="#000" stroke-width="0.95"/>
<circle cx="211" cy="232.81" r="1.3" fill="none" stroke="#000" stroke-width="0.95"/>
<circle cx="213.2" cy="232.3" r="1.3" fill="none" stroke="#000" stroke-width="0.95"/>
<circle cx="215.4" cy="231.72" r="1.3" fill="none" stroke="#000" stroke-width="0.95"/>
<circle cx="217.6" cy="231.08" r="1.3" fill="none" stroke="#000" stroke-width="0.95"/>
<circle cx="219.8" cy="230.32" r="1.3" fill="none" stroke="#000" stroke-width="0.95"/>
<circle cx="222" cy="229.45" r="1.3" fill="none" stroke="#000" stroke-width="0.95"/>
<circle cx="224.2" cy="228.49" r="1.3" fill="none" stroke="#000" stroke-width="0.95"/>
<circle cx="226.4" cy="227.48" r="1.3" fill="none" stroke="#000" stroke-width="0.95"/>
<circle cx="228.6" cy="226.35" r="1.3" fill="none" stroke="#000" stroke-width="0.95"/>
<circle cx="230.8" cy="225.12" r="1.3" fill="none" stroke="#000" stroke-width="0.95"/>
<circle cx="232.2" cy="224.3" r="1.3" fill="none" stroke="#000" stroke-width="0.95"/>
<rect x="37.7" y="198.3" width="194.9" height="156.4" fill="none" stroke="#000" stroke-width="2"/>
<line x1="165.8" y1="320.5" x2="186.4" y2="320.5" stroke="#ff1a1a" stroke-width="1.5"/>
<circle cx="176.1" cy="320.5" r="1.25" fill="none" stroke="#ff1a1a" stroke-width="1.2"/>
<text x="188.8" y="324.2" font-size="9.5" font-weight="normal" text-anchor="start" textLength="31.4" lengthAdjust="spacingAndGlyphs" stroke="#000" stroke-width="0.3">BCP/Cu</text>
<line x1="165.8" y1="333.2" x2="186.4" y2="333.2" stroke="#000" stroke-width="1.5"/>
<circle cx="176.1" cy="333.2" r="1.25" fill="none" stroke="#000" stroke-width="1.2"/>
<text x="188.8" y="337" font-size="9.5" font-weight="normal" text-anchor="start" textLength="40" lengthAdjust="spacingAndGlyphs" stroke="#000" stroke-width="0.3">BCP/S-Cu</text>
<text x="134.9" y="378.1" font-size="12.7" font-weight="bold" text-anchor="middle" textLength="61" lengthAdjust="spacingAndGlyphs" >Voltage (V)</text>
<text x="0" y="0" font-size="13" font-weight="bold" text-anchor="start" textLength="162" lengthAdjust="spacingAndGlyphs" transform="translate(11.3,357.6) rotate(-90)">Current Density (mA cm<tspan font-size="9.5" dy="-4.5">-2</tspan><tspan dy="4.5">)</tspan></text>
<text x="239.2" y="190.8" font-size="14" font-weight="bold" text-anchor="start" >(d)</text>
<line x1="273.6" y1="199.1" x2="276.6" y2="199.1" stroke="#000" stroke-width="1.2"/>
<text x="269.4" y="203.7" font-size="8.6" font-weight="bold" text-anchor="end">10<tspan font-size="5.2" dy="-3.6">-3</tspan></text>
<line x1="273.6" y1="212.96" x2="275.2" y2="212.96" stroke="#000" stroke-width="0.9"/>
<line x1="273.6" y1="209.47" x2="275.2" y2="209.47" stroke="#000" stroke-width="0.9"/>
<line x1="273.6" y1="206.99" x2="275.2" y2="206.99" stroke="#000" stroke-width="0.9"/>
<line x1="273.6" y1="205.07" x2="275.2" y2="205.07" stroke="#000" stroke-width="0.9"/>
<line x1="273.6" y1="203.5" x2="275.2" y2="203.5" stroke="#000" stroke-width="0.9"/>
<line x1="273.6" y1="202.17" x2="275.2" y2="202.17" stroke="#000" stroke-width="0.9"/>
<line x1="273.6" y1="201.02" x2="275.2" y2="201.02" stroke="#000" stroke-width="0.9"/>
<line x1="273.6" y1="200.01" x2="275.2" y2="200.01" stroke="#000" stroke-width="0.9"/>
<line x1="273.6" y1="218.92" x2="276.6" y2="218.92" stroke="#000" stroke-width="1.2"/>
<text x="269.4" y="223.52" font-size="8.6" font-weight="bold" text-anchor="end">10<tspan font-size="5.2" dy="-3.6">-4</tspan></text>
<line x1="273.6" y1="232.78" x2="275.2" y2="232.78" stroke="#000" stroke-width="0.9"/>
<line x1="273.6" y1="229.29" x2="275.2" y2="229.29" stroke="#000" stroke-width="0.9"/>
<line x1="273.6" y1="226.81" x2="275.2" y2="226.81" stroke="#000" stroke-width="0.9"/>
<line x1="273.6" y1="224.89" x2="275.2" y2="224.89" stroke="#000" stroke-width="0.9"/>
<line x1="273.6" y1="223.32" x2="275.2" y2="223.32" stroke="#000" stroke-width="0.9"/>
<line x1="273.6" y1="222" x2="275.2" y2="222" stroke="#000" stroke-width="0.9"/>
<line x1="273.6" y1="220.85" x2="275.2" y2="220.85" stroke="#000" stroke-width="0.9"/>
<line x1="273.6" y1="219.83" x2="275.2" y2="219.83" stroke="#000" stroke-width="0.9"/>
<line x1="273.6" y1="238.75" x2="276.6" y2="238.75" stroke="#000" stroke-width="1.2"/>
<text x="269.4" y="243.35" font-size="8.6" font-weight="bold" text-anchor="end">10<tspan font-size="5.2" dy="-3.6">-5</tspan></text>
<line x1="273.6" y1="252.61" x2="275.2" y2="252.61" stroke="#000" stroke-width="0.9"/>
<line x1="273.6" y1="249.12" x2="275.2" y2="249.12" stroke="#000" stroke-width="0.9"/>
<line x1="273.6" y1="246.64" x2="275.2" y2="246.64" stroke="#000" stroke-width="0.9"/>
<line x1="273.6" y1="244.72" x2="275.2" y2="244.72" stroke="#000" stroke-width="0.9"/>
<line x1="273.6" y1="243.15" x2="275.2" y2="243.15" stroke="#000" stroke-width="0.9"/>
<line x1="273.6" y1="241.82" x2="275.2" y2="241.82" stroke="#000" stroke-width="0.9"/>
<line x1="273.6" y1="240.67" x2="275.2" y2="240.67" stroke="#000" stroke-width="0.9"/>
<line x1="273.6" y1="239.66" x2="275.2" y2="239.66" stroke="#000" stroke-width="0.9"/>
<line x1="273.6" y1="258.57" x2="276.6" y2="258.57" stroke="#000" stroke-width="1.2"/>
<text x="269.4" y="263.18" font-size="8.6" font-weight="bold" text-anchor="end">10<tspan font-size="5.2" dy="-3.6">-6</tspan></text>
<line x1="273.6" y1="272.43" x2="275.2" y2="272.43" stroke="#000" stroke-width="0.9"/>
<line x1="273.6" y1="268.94" x2="275.2" y2="268.94" stroke="#000" stroke-width="0.9"/>
<line x1="273.6" y1="266.46" x2="275.2" y2="266.46" stroke="#000" stroke-width="0.9"/>
<line x1="273.6" y1="264.54" x2="275.2" y2="264.54" stroke="#000" stroke-width="0.9"/>
<line x1="273.6" y1="262.97" x2="275.2" y2="262.97" stroke="#000" stroke-width="0.9"/>
<line x1="273.6" y1="261.65" x2="275.2" y2="261.65" stroke="#000" stroke-width="0.9"/>
<line x1="273.6" y1="260.5" x2="275.2" y2="260.5" stroke="#000" stroke-width="0.9"/>
<line x1="273.6" y1="259.48" x2="275.2" y2="259.48" stroke="#000" stroke-width="0.9"/>
<line x1="273.6" y1="278.4" x2="276.6" y2="278.4" stroke="#000" stroke-width="1.2"/>
<text x="269.4" y="283" font-size="8.6" font-weight="bold" text-anchor="end">10<tspan font-size="5.2" dy="-3.6">-7</tspan></text>
<line x1="273.6" y1="292.26" x2="275.2" y2="292.26" stroke="#000" stroke-width="0.9"/>
<line x1="273.6" y1="288.77" x2="275.2" y2="288.77" stroke="#000" stroke-width="0.9"/>
<line x1="273.6" y1="286.29" x2="275.2" y2="286.29" stroke="#000" stroke-width="0.9"/>
<line x1="273.6" y1="284.37" x2="275.2" y2="284.37" stroke="#000" stroke-width="0.9"/>
<line x1="273.6" y1="282.8" x2="275.2" y2="282.8" stroke="#000" stroke-width="0.9"/>
<line x1="273.6" y1="281.47" x2="275.2" y2="281.47" stroke="#000" stroke-width="0.9"/>
<line x1="273.6" y1="280.32" x2="275.2" y2="280.32" stroke="#000" stroke-width="0.9"/>
<line x1="273.6" y1="279.31" x2="275.2" y2="279.31" stroke="#000" stroke-width="0.9"/>
<line x1="273.6" y1="298.23" x2="276.6" y2="298.23" stroke="#000" stroke-width="1.2"/>
<text x="269.4" y="302.83" font-size="8.6" font-weight="bold" text-anchor="end">10<tspan font-size="5.2" dy="-3.6">-8</tspan></text>
<line x1="273.6" y1="312.08" x2="275.2" y2="312.08" stroke="#000" stroke-width="0.9"/>
<line x1="273.6" y1="308.59" x2="275.2" y2="308.59" stroke="#000" stroke-width="0.9"/>
<line x1="273.6" y1="306.11" x2="275.2" y2="306.11" stroke="#000" stroke-width="0.9"/>
<line x1="273.6" y1="304.19" x2="275.2" y2="304.19" stroke="#000" stroke-width="0.9"/>
<line x1="273.6" y1="302.62" x2="275.2" y2="302.62" stroke="#000" stroke-width="0.9"/>
<line x1="273.6" y1="301.3" x2="275.2" y2="301.3" stroke="#000" stroke-width="0.9"/>
<line x1="273.6" y1="300.15" x2="275.2" y2="300.15" stroke="#000" stroke-width="0.9"/>
<line x1="273.6" y1="299.13" x2="275.2" y2="299.13" stroke="#000" stroke-width="0.9"/>
<line x1="273.6" y1="318.05" x2="276.6" y2="318.05" stroke="#000" stroke-width="1.2"/>
<text x="269.4" y="322.65" font-size="8.6" font-weight="bold" text-anchor="end">10<tspan font-size="5.2" dy="-3.6">-9</tspan></text>
<line x1="273.6" y1="331.91" x2="275.2" y2="331.91" stroke="#000" stroke-width="0.9"/>
<line x1="273.6" y1="328.42" x2="275.2" y2="328.42" stroke="#000" stroke-width="0.9"/>
<line x1="273.6" y1="325.94" x2="275.2" y2="325.94" stroke="#000" stroke-width="0.9"/>
<line x1="273.6" y1="324.02" x2="275.2" y2="324.02" stroke="#000" stroke-width="0.9"/>
<line x1="273.6" y1="322.45" x2="275.2" y2="322.45" stroke="#000" stroke-width="0.9"/>
<line x1="273.6" y1="321.12" x2="275.2" y2="321.12" stroke="#000" stroke-width="0.9"/>
<line x1="273.6" y1="319.97" x2="275.2" y2="319.97" stroke="#000" stroke-width="0.9"/>
<line x1="273.6" y1="318.96" x2="275.2" y2="318.96" stroke="#000" stroke-width="0.9"/>
<line x1="273.6" y1="337.88" x2="276.6" y2="337.88" stroke="#000" stroke-width="1.2"/>
<text x="269.4" y="342.48" font-size="8.6" font-weight="bold" text-anchor="end">10<tspan font-size="5.2" dy="-3.6">-10</tspan></text>
<line x1="273.6" y1="351.73" x2="275.2" y2="351.73" stroke="#000" stroke-width="0.9"/>
<line x1="273.6" y1="348.24" x2="275.2" y2="348.24" stroke="#000" stroke-width="0.9"/>
<line x1="273.6" y1="345.76" x2="275.2" y2="345.76" stroke="#000" stroke-width="0.9"/>
<line x1="273.6" y1="343.84" x2="275.2" y2="343.84" stroke="#000" stroke-width="0.9"/>
<line x1="273.6" y1="342.27" x2="275.2" y2="342.27" stroke="#000" stroke-width="0.9"/>
<line x1="273.6" y1="340.95" x2="275.2" y2="340.95" stroke="#000" stroke-width="0.9"/>
<line x1="273.6" y1="339.8" x2="275.2" y2="339.8" stroke="#000" stroke-width="0.9"/>
<line x1="273.6" y1="338.78" x2="275.2" y2="338.78" stroke="#000" stroke-width="0.9"/>
<line x1="273.6" y1="357.7" x2="276.6" y2="357.7" stroke="#000" stroke-width="1.2"/>
<text x="269.4" y="362.3" font-size="8.6" font-weight="bold" text-anchor="end">10<tspan font-size="5.2" dy="-3.6">-11</tspan></text>
<line x1="287.9" y1="357.7" x2="287.9" y2="354.7" stroke="#000" stroke-width="1.2"/>
<text x="287.9" y="368.6" font-size="8.5" font-weight="bold" text-anchor="middle" >0.0</text>
<line x1="302.86" y1="357.7" x2="302.86" y2="355.9" stroke="#000" stroke-width="1.2"/>
<line x1="317.82" y1="357.7" x2="317.82" y2="354.7" stroke="#000" stroke-width="1.2"/>
<text x="317.82" y="368.6" font-size="8.5" font-weight="bold" text-anchor="middle" >0.2</text>
<line x1="332.78" y1="357.7" x2="332.78" y2="355.9" stroke="#000" stroke-width="1.2"/>
<line x1="347.74" y1="357.7" x2="347.74" y2="354.7" stroke="#000" stroke-width="1.2"/>
<text x="347.74" y="368.6" font-size="8.5" font-weight="bold" text-anchor="middle" >0.4</text>
<line x1="362.7" y1="357.7" x2="362.7" y2="355.9" stroke="#000" stroke-width="1.2"/>
<line x1="377.66" y1="357.7" x2="377.66" y2="354.7" stroke="#000" stroke-width="1.2"/>
<text x="377.66" y="368.6" font-size="8.5" font-weight="bold" text-anchor="middle" >0.6</text>
<line x1="392.62" y1="357.7" x2="392.62" y2="355.9" stroke="#000" stroke-width="1.2"/>
<line x1="407.58" y1="357.7" x2="407.58" y2="354.7" stroke="#000" stroke-width="1.2"/>
<text x="407.58" y="368.6" font-size="8.5" font-weight="bold" text-anchor="middle" >0.8</text>
<line x1="422.54" y1="357.7" x2="422.54" y2="355.9" stroke="#000" stroke-width="1.2"/>
<line x1="437.5" y1="357.7" x2="437.5" y2="354.7" stroke="#000" stroke-width="1.2"/>
<text x="437.5" y="368.6" font-size="8.5" font-weight="bold" text-anchor="middle" >1.0</text>
<line x1="452.46" y1="357.7" x2="452.46" y2="355.9" stroke="#000" stroke-width="1.2"/>
<line x1="467.42" y1="357.7" x2="467.42" y2="354.7" stroke="#000" stroke-width="1.2"/>
<text x="467.42" y="368.6" font-size="8.5" font-weight="bold" text-anchor="middle" >1.2</text>
<polyline points="272.5,285.4 275.5,286.75 278.5,289.53 281.5,293.14 284.5,298.16 287.5,305 290.8,308.6 293.5,296.07 296.5,292.27 299.5,289.2 302.5,287.12 305.5,285.45 308.5,284.06 311.5,282.89 314.5,281.87 317.5,280.96 320.5,280.12 323.5,279.37 326.5,278.68 329.5,278.04 332.5,277.44 335.5,276.88 338.5,276.37 341.5,275.9 344.5,275.46 347.5,275.04 350.5,274.63 353.5,274.21 356.5,273.79 359.5,273.38 362.5,273 365.5,272.63 368.5,272.25 371.5,271.86 374.5,271.43 377.5,270.95 380.5,270.4 383.5,269.73 386.5,268.93 389.5,268.06 392.5,267.17 395.5,266.3 398.5,265.4 401.5,264.39 404.5,263.18 407.5,261.57 410.5,259.46 413.5,257.07 416.5,254.59 419.5,251.87 422.5,248.94 425.5,245.9 428.5,242.76 431.5,239.48 434.5,236.11 437.5,232.69 440.5,229.18 443.5,225.37 446.5,221.13 449.5,217.69 452.5,215.07 455.5,212.64 458.5,209.97 461.5,207.22 464.5,204.4 467,202" fill="none" stroke="#ff1a1a" stroke-width="1.0"/>
<circle cx="272.5" cy="285.4" r="1.45" fill="none" stroke="#ff1a1a" stroke-width="1.0"/>
<circle cx="275.5" cy="286.75" r="1.45" fill="none" stroke="#ff1a1a" stroke-width="1.0"/>
<circle cx="278.5" cy="289.53" r="1.45" fill="none" stroke="#ff1a1a" stroke-width="1.0"/>
<circle cx="281.5" cy="293.14" r="1.45" fill="none" stroke="#ff1a1a" stroke-width="1.0"/>
<circle cx="284.5" cy="298.16" r="1.45" fill="none" stroke="#ff1a1a" stroke-width="1.0"/>
<circle cx="287.5" cy="305" r="1.45" fill="none" stroke="#ff1a1a" stroke-width="1.0"/>
<circle cx="290.8" cy="308.6" r="1.45" fill="none" stroke="#ff1a1a" stroke-width="1.0"/>
<circle cx="293.5" cy="296.07" r="1.45" fill="none" stroke="#ff1a1a" stroke-width="1.0"/>
<circle cx="296.5" cy="292.27" r="1.45" fill="none" stroke="#ff1a1a" stroke-width="1.0"/>
<circle cx="299.5" cy="289.2" r="1.45" fill="none" stroke="#ff1a1a" stroke-width="1.0"/>
<circle cx="302.5" cy="287.12" r="1.45" fill="none" stroke="#ff1a1a" stroke-width="1.0"/>
<circle cx="305.5" cy="285.45" r="1.45" fill="none" stroke="#ff1a1a" stroke-width="1.0"/>
<circle cx="308.5" cy="284.06" r="1.45" fill="none" stroke="#ff1a1a" stroke-width="1.0"/>
<circle cx="311.5" cy="282.89" r="1.45" fill="none" stroke="#ff1a1a" stroke-width="1.0"/>
<circle cx="314.5" cy="281.87" r="1.45" fill="none" stroke="#ff1a1a" stroke-width="1.0"/>
<circle cx="317.5" cy="280.96" r="1.45" fill="none" stroke="#ff1a1a" stroke-width="1.0"/>
<circle cx="320.5" cy="280.12" r="1.45" fill="none" stroke="#ff1a1a" stroke-width="1.0"/>
<circle cx="323.5" cy="279.37" r="1.45" fill="none" stroke="#ff1a1a" stroke-width="1.0"/>
<circle cx="326.5" cy="278.68" r="1.45" fill="none" stroke="#ff1a1a" stroke-width="1.0"/>
<circle cx="329.5" cy="278.04" r="1.45" fill="none" stroke="#ff1a1a" stroke-width="1.0"/>
<circle cx="332.5" cy="277.44" r="1.45" fill="none" stroke="#ff1a1a" stroke-width="1.0"/>
<circle cx="335.5" cy="276.88" r="1.45" fill="none" stroke="#ff1a1a" stroke-width="1.0"/>
<circle cx="338.5" cy="276.37" r="1.45" fill="none" stroke="#ff1a1a" stroke-width="1.0"/>
<circle cx="341.5" cy="275.9" r="1.45" fill="none" stroke="#ff1a1a" stroke-width="1.0"/>
<circle cx="344.5" cy="275.46" r="1.45" fill="none" stroke="#ff1a1a" stroke-width="1.0"/>
<circle cx="347.5" cy="275.04" r="1.45" fill="none" stroke="#ff1a1a" stroke-width="1.0"/>
<circle cx="350.5" cy="274.63" r="1.45" fill="none" stroke="#ff1a1a" stroke-width="1.0"/>
<circle cx="353.5" cy="274.21" r="1.45" fill="none" stroke="#ff1a1a" stroke-width="1.0"/>
<circle cx="356.5" cy="273.79" r="1.45" fill="none" stroke="#ff1a1a" stroke-width="1.0"/>
<circle cx="359.5" cy="273.38" r="1.45" fill="none" stroke="#ff1a1a" stroke-width="1.0"/>
<circle cx="362.5" cy="273" r="1.45" fill="none" stroke="#ff1a1a" stroke-width="1.0"/>
<circle cx="365.5" cy="272.63" r="1.45" fill="none" stroke="#ff1a1a" stroke-width="1.0"/>
<circle cx="368.5" cy="272.25" r="1.45" fill="none" stroke="#ff1a1a" stroke-width="1.0"/>
<circle cx="371.5" cy="271.86" r="1.45" fill="none" stroke="#ff1a1a" stroke-width="1.0"/>
<circle cx="374.5" cy="271.43" r="1.45" fill="none" stroke="#ff1a1a" stroke-width="1.0"/>
<circle cx="377.5" cy="270.95" r="1.45" fill="none" stroke="#ff1a1a" stroke-width="1.0"/>
<circle cx="380.5" cy="270.4" r="1.45" fill="none" stroke="#ff1a1a" stroke-width="1.0"/>
<circle cx="383.5" cy="269.73" r="1.45" fill="none" stroke="#ff1a1a" stroke-width="1.0"/>
<circle cx="386.5" cy="268.93" r="1.45" fill="none" stroke="#ff1a1a" stroke-width="1.0"/>
<circle cx="389.5" cy="268.06" r="1.45" fill="none" stroke="#ff1a1a" stroke-width="1.0"/>
<circle cx="392.5" cy="267.17" r="1.45" fill="none" stroke="#ff1a1a" stroke-width="1.0"/>
<circle cx="395.5" cy="266.3" r="1.45" fill="none" stroke="#ff1a1a" stroke-width="1.0"/>
<circle cx="398.5" cy="265.4" r="1.45" fill="none" stroke="#ff1a1a" stroke-width="1.0"/>
<circle cx="401.5" cy="264.39" r="1.45" fill="none" stroke="#ff1a1a" stroke-width="1.0"/>
<circle cx="404.5" cy="263.18" r="1.45" fill="none" stroke="#ff1a1a" stroke-width="1.0"/>
<circle cx="407.5" cy="261.57" r="1.45" fill="none" stroke="#ff1a1a" stroke-width="1.0"/>
<circle cx="410.5" cy="259.46" r="1.45" fill="none" stroke="#ff1a1a" stroke-width="1.0"/>
<circle cx="413.5" cy="257.07" r="1.45" fill="none" stroke="#ff1a1a" stroke-width="1.0"/>
<circle cx="416.5" cy="254.59" r="1.45" fill="none" stroke="#ff1a1a" stroke-width="1.0"/>
<circle cx="419.5" cy="251.87" r="1.45" fill="none" stroke="#ff1a1a" stroke-width="1.0"/>
<circle cx="422.5" cy="248.94" r="1.45" fill="none" stroke="#ff1a1a" stroke-width="1.0"/>
<circle cx="425.5" cy="245.9" r="1.45" fill="none" stroke="#ff1a1a" stroke-width="1.0"/>
<circle cx="428.5" cy="242.76" r="1.45" fill="none" stroke="#ff1a1a" stroke-width="1.0"/>
<circle cx="431.5" cy="239.48" r="1.45" fill="none" stroke="#ff1a1a" stroke-width="1.0"/>
<circle cx="434.5" cy="236.11" r="1.45" fill="none" stroke="#ff1a1a" stroke-width="1.0"/>
<circle cx="437.5" cy="232.69" r="1.45" fill="none" stroke="#ff1a1a" stroke-width="1.0"/>
<circle cx="440.5" cy="229.18" r="1.45" fill="none" stroke="#ff1a1a" stroke-width="1.0"/>
<circle cx="443.5" cy="225.37" r="1.45" fill="none" stroke="#ff1a1a" stroke-width="1.0"/>
<circle cx="446.5" cy="221.13" r="1.45" fill="none" stroke="#ff1a1a" stroke-width="1.0"/>
<circle cx="449.5" cy="217.69" r="1.45" fill="none" stroke="#ff1a1a" stroke-width="1.0"/>
<circle cx="452.5" cy="215.07" r="1.45" fill="none" stroke="#ff1a1a" stroke-width="1.0"/>
<circle cx="455.5" cy="212.64" r="1.45" fill="none" stroke="#ff1a1a" stroke-width="1.0"/>
<circle cx="458.5" cy="209.97" r="1.45" fill="none" stroke="#ff1a1a" stroke-width="1.0"/>
<circle cx="461.5" cy="207.22" r="1.45" fill="none" stroke="#ff1a1a" stroke-width="1.0"/>
<circle cx="464.5" cy="204.4" r="1.45" fill="none" stroke="#ff1a1a" stroke-width="1.0"/>
<circle cx="467" cy="202" r="1.45" fill="none" stroke="#ff1a1a" stroke-width="1.0"/>
<polyline points="272.5,278.24 275.5,280.07 278.5,282.41 281.5,285.23 284.5,290.47 287.5,339.6 290.5,293.16 293.5,287.73 296.5,283.5 299.5,280.17 302.5,277.73 305.5,275.95 308.5,274.5 311.5,273.3 314.5,272.27 317.5,271.33 320.5,270.48 323.5,269.71 326.5,269 329.5,268.35 332.5,267.74 335.5,267.18 338.5,266.66 341.5,266.18 344.5,265.73 347.5,265.3 350.5,264.89 353.5,264.49 356.5,264.1 359.5,263.73 362.5,263.38 365.5,263.06 368.5,262.74 371.5,262.4 374.5,262.05 377.5,261.66 380.5,261.22 383.5,260.69 386.5,260.1 389.5,259.47 392.5,258.88 395.5,258.36 398.5,257.88 401.5,257.36 404.5,256.7 407.5,255.81 410.5,254.63 413.5,253.22 416.5,251.62 419.5,249.62 422.5,247.31 425.5,244.88 428.5,242.42 431.5,239.8 434.5,236.95 437.5,233.66 440.5,229.6 443.5,225.42 446.5,221.9 449.5,219.19 452.5,216.84 455.5,214.61 458.5,212.33 461.5,210.11 464.5,207.95 467,206.2" fill="none" stroke="#000" stroke-width="1.0"/>
<circle cx="272.5" cy="278.24" r="1.45" fill="none" stroke="#000" stroke-width="1.0"/>
<circle cx="275.5" cy="280.07" r="1.45" fill="none" stroke="#000" stroke-width="1.0"/>
<circle cx="278.5" cy="282.41" r="1.45" fill="none" stroke="#000" stroke-width="1.0"/>
<circle cx="281.5" cy="285.23" r="1.45" fill="none" stroke="#000" stroke-width="1.0"/>
<circle cx="284.5" cy="290.47" r="1.45" fill="none" stroke="#000" stroke-width="1.0"/>
<circle cx="287.5" cy="339.6" r="1.45" fill="none" stroke="#000" stroke-width="1.0"/>
<circle cx="290.5" cy="293.16" r="1.45" fill="none" stroke="#000" stroke-width="1.0"/>
<circle cx="293.5" cy="287.73" r="1.45" fill="none" stroke="#000" stroke-width="1.0"/>
<circle cx="296.5" cy="283.5" r="1.45" fill="none" stroke="#000" stroke-width="1.0"/>
<circle cx="299.5" cy="280.17" r="1.45" fill="none" stroke="#000" stroke-width="1.0"/>
<circle cx="302.5" cy="277.73" r="1.45" fill="none" stroke="#000" stroke-width="1.0"/>
<circle cx="305.5" cy="275.95" r="1.45" fill="none" stroke="#000" stroke-width="1.0"/>
<circle cx="308.5" cy="274.5" r="1.45" fill="none" stroke="#000" stroke-width="1.0"/>
<circle cx="311.5" cy="273.3" r="1.45" fill="none" stroke="#000" stroke-width="1.0"/>
<circle cx="314.5" cy="272.27" r="1.45" fill="none" stroke="#000" stroke-width="1.0"/>
<circle cx="317.5" cy="271.33" r="1.45" fill="none" stroke="#000" stroke-width="1.0"/>
<circle cx="320.5" cy="270.48" r="1.45" fill="none" stroke="#000" stroke-width="1.0"/>
<circle cx="323.5" cy="269.71" r="1.45" fill="none" stroke="#000" stroke-width="1.0"/>
<circle cx="326.5" cy="269" r="1.45" fill="none" stroke="#000" stroke-width="1.0"/>
<circle cx="329.5" cy="268.35" r="1.45" fill="none" stroke="#000" stroke-width="1.0"/>
<circle cx="332.5" cy="267.74" r="1.45" fill="none" stroke="#000" stroke-width="1.0"/>
<circle cx="335.5" cy="267.18" r="1.45" fill="none" stroke="#000" stroke-width="1.0"/>
<circle cx="338.5" cy="266.66" r="1.45" fill="none" stroke="#000" stroke-width="1.0"/>
<circle cx="341.5" cy="266.18" r="1.45" fill="none" stroke="#000" stroke-width="1.0"/>
<circle cx="344.5" cy="265.73" r="1.45" fill="none" stroke="#000" stroke-width="1.0"/>
<circle cx="347.5" cy="265.3" r="1.45" fill="none" stroke="#000" stroke-width="1.0"/>
<circle cx="350.5" cy="264.89" r="1.45" fill="none" stroke="#000" stroke-width="1.0"/>
<circle cx="353.5" cy="264.49" r="1.45" fill="none" stroke="#000" stroke-width="1.0"/>
<circle cx="356.5" cy="264.1" r="1.45" fill="none" stroke="#000" stroke-width="1.0"/>
<circle cx="359.5" cy="263.73" r="1.45" fill="none" stroke="#000" stroke-width="1.0"/>
<circle cx="362.5" cy="263.38" r="1.45" fill="none" stroke="#000" stroke-width="1.0"/>
<circle cx="365.5" cy="263.06" r="1.45" fill="none" stroke="#000" stroke-width="1.0"/>
<circle cx="368.5" cy="262.74" r="1.45" fill="none" stroke="#000" stroke-width="1.0"/>
<circle cx="371.5" cy="262.4" r="1.45" fill="none" stroke="#000" stroke-width="1.0"/>
<circle cx="374.5" cy="262.05" r="1.45" fill="none" stroke="#000" stroke-width="1.0"/>
<circle cx="377.5" cy="261.66" r="1.45" fill="none" stroke="#000" stroke-width="1.0"/>
<circle cx="380.5" cy="261.22" r="1.45" fill="none" stroke="#000" stroke-width="1.0"/>
<circle cx="383.5" cy="260.69" r="1.45" fill="none" stroke="#000" stroke-width="1.0"/>
<circle cx="386.5" cy="260.1" r="1.45" fill="none" stroke="#000" stroke-width="1.0"/>
<circle cx="389.5" cy="259.47" r="1.45" fill="none" stroke="#000" stroke-width="1.0"/>
<circle cx="392.5" cy="258.88" r="1.45" fill="none" stroke="#000" stroke-width="1.0"/>
<circle cx="395.5" cy="258.36" r="1.45" fill="none" stroke="#000" stroke-width="1.0"/>
<circle cx="398.5" cy="257.88" r="1.45" fill="none" stroke="#000" stroke-width="1.0"/>
<circle cx="401.5" cy="257.36" r="1.45" fill="none" stroke="#000" stroke-width="1.0"/>
<circle cx="404.5" cy="256.7" r="1.45" fill="none" stroke="#000" stroke-width="1.0"/>
<circle cx="407.5" cy="255.81" r="1.45" fill="none" stroke="#000" stroke-width="1.0"/>
<circle cx="410.5" cy="254.63" r="1.45" fill="none" stroke="#000" stroke-width="1.0"/>
<circle cx="413.5" cy="253.22" r="1.45" fill="none" stroke="#000" stroke-width="1.0"/>
<circle cx="416.5" cy="251.62" r="1.45" fill="none" stroke="#000" stroke-width="1.0"/>
<circle cx="419.5" cy="249.62" r="1.45" fill="none" stroke="#000" stroke-width="1.0"/>
<circle cx="422.5" cy="247.31" r="1.45" fill="none" stroke="#000" stroke-width="1.0"/>
<circle cx="425.5" cy="244.88" r="1.45" fill="none" stroke="#000" stroke-width="1.0"/>
<circle cx="428.5" cy="242.42" r="1.45" fill="none" stroke="#000" stroke-width="1.0"/>
<circle cx="431.5" cy="239.8" r="1.45" fill="none" stroke="#000" stroke-width="1.0"/>
<circle cx="434.5" cy="236.95" r="1.45" fill="none" stroke="#000" stroke-width="1.0"/>
<circle cx="437.5" cy="233.66" r="1.45" fill="none" stroke="#000" stroke-width="1.0"/>
<circle cx="440.5" cy="229.6" r="1.45" fill="none" stroke="#000" stroke-width="1.0"/>
<circle cx="443.5" cy="225.42" r="1.45" fill="none" stroke="#000" stroke-width="1.0"/>
<circle cx="446.5" cy="221.9" r="1.45" fill="none" stroke="#000" stroke-width="1.0"/>
<circle cx="449.5" cy="219.19" r="1.45" fill="none" stroke="#000" stroke-width="1.0"/>
<circle cx="452.5" cy="216.84" r="1.45" fill="none" stroke="#000" stroke-width="1.0"/>
<circle cx="455.5" cy="214.61" r="1.45" fill="none" stroke="#000" stroke-width="1.0"/>
<circle cx="458.5" cy="212.33" r="1.45" fill="none" stroke="#000" stroke-width="1.0"/>
<circle cx="461.5" cy="210.11" r="1.45" fill="none" stroke="#000" stroke-width="1.0"/>
<circle cx="464.5" cy="207.95" r="1.45" fill="none" stroke="#000" stroke-width="1.0"/>
<circle cx="467" cy="206.2" r="1.45" fill="none" stroke="#000" stroke-width="1.0"/>
<rect x="273.6" y="199.1" width="193.8" height="158.6" fill="none" stroke="#000" stroke-width="2"/>
<line x1="378.3" y1="321.9" x2="397.1" y2="321.9" stroke="#ff1a1a" stroke-width="1.5"/>
<circle cx="387.7" cy="321.9" r="1.25" fill="none" stroke="#ff1a1a" stroke-width="1.2"/>
<text x="399.1" y="324.7" font-size="9.5" font-weight="bold" text-anchor="start" textLength="62" lengthAdjust="spacingAndGlyphs" >ALD-SnO<tspan font-size="8.5" dy="3">2</tspan><tspan dy="-3">/Cu</tspan></text>
<line x1="378.3" y1="337.1" x2="397.1" y2="337.1" stroke="#111" stroke-width="1.5"/>
<circle cx="387.7" cy="337.1" r="1.25" fill="none" stroke="#111" stroke-width="1.2"/>
<text x="399.1" y="340" font-size="9.5" font-weight="bold" text-anchor="start" textLength="64" lengthAdjust="spacingAndGlyphs" >ALD-SnO<tspan font-size="8.5" dy="3">2</tspan><tspan dy="-3">/IAI</tspan></text>
<text x="373.3" y="380.1" font-size="12.9" font-weight="bold" text-anchor="middle" textLength="61.4" lengthAdjust="spacingAndGlyphs" >Voltage (V)</text>
<text x="0" y="0" font-size="12.8" font-weight="bold" text-anchor="start" textLength="165.5" lengthAdjust="spacingAndGlyphs" transform="translate(252.2,361) rotate(-90)">Current Density (mA cm<tspan font-size="9.5" dy="-4.5">-2</tspan><tspan dy="4.5">)</tspan></text>
<text x="476.2" y="190.4" font-size="14" font-weight="bold" text-anchor="start" >(e)</text>
<line x1="507.7" y1="358.2" x2="510.9" y2="358.2" stroke="#000" stroke-width="1.2"/>
<text x="504.7" y="361.5" font-size="9.5" font-weight="bold" text-anchor="end" >0</text>
<line x1="507.7" y1="326.42" x2="510.9" y2="326.42" stroke="#000" stroke-width="1.2"/>
<text x="504.7" y="329.72" font-size="9.5" font-weight="bold" text-anchor="end" >5</text>
<line x1="507.7" y1="294.64" x2="510.9" y2="294.64" stroke="#000" stroke-width="1.2"/>
<text x="504.7" y="297.94" font-size="9.5" font-weight="bold" text-anchor="end" >10</text>
<line x1="507.7" y1="262.86" x2="510.9" y2="262.86" stroke="#000" stroke-width="1.2"/>
<text x="504.7" y="266.16" font-size="9.5" font-weight="bold" text-anchor="end" >15</text>
<line x1="507.7" y1="231.08" x2="510.9" y2="231.08" stroke="#000" stroke-width="1.2"/>
<text x="504.7" y="234.38" font-size="9.5" font-weight="bold" text-anchor="end" >20</text>
<line x1="507.7" y1="199.3" x2="510.9" y2="199.3" stroke="#000" stroke-width="1.2"/>
<text x="504.7" y="202.6" font-size="9.5" font-weight="bold" text-anchor="end" >25</text>
<line x1="507.6" y1="358.2" x2="507.6" y2="355.2" stroke="#000" stroke-width="1.2"/>
<text x="507.6" y="370.4" font-size="9.3" font-weight="bold" text-anchor="middle" >0.0</text>
<line x1="524.25" y1="358.2" x2="524.25" y2="356.4" stroke="#000" stroke-width="1.2"/>
<line x1="540.9" y1="358.2" x2="540.9" y2="355.2" stroke="#000" stroke-width="1.2"/>
<text x="540.9" y="370.4" font-size="9.3" font-weight="bold" text-anchor="middle" >0.2</text>
<line x1="557.55" y1="358.2" x2="557.55" y2="356.4" stroke="#000" stroke-width="1.2"/>
<line x1="574.2" y1="358.2" x2="574.2" y2="355.2" stroke="#000" stroke-width="1.2"/>
<text x="574.2" y="370.4" font-size="9.3" font-weight="bold" text-anchor="middle" >0.4</text>
<line x1="590.85" y1="358.2" x2="590.85" y2="356.4" stroke="#000" stroke-width="1.2"/>
<line x1="607.5" y1="358.2" x2="607.5" y2="355.2" stroke="#000" stroke-width="1.2"/>
<text x="607.5" y="370.4" font-size="9.3" font-weight="bold" text-anchor="middle" >0.6</text>
<line x1="624.15" y1="358.2" x2="624.15" y2="356.4" stroke="#000" stroke-width="1.2"/>
<line x1="640.8" y1="358.2" x2="640.8" y2="355.2" stroke="#000" stroke-width="1.2"/>
<text x="640.8" y="370.4" font-size="9.3" font-weight="bold" text-anchor="middle" >0.8</text>
<line x1="657.45" y1="358.2" x2="657.45" y2="356.4" stroke="#000" stroke-width="1.2"/>
<line x1="674.1" y1="358.2" x2="674.1" y2="355.2" stroke="#000" stroke-width="1.2"/>
<text x="674.1" y="370.4" font-size="9.3" font-weight="bold" text-anchor="middle" >1.0</text>
<line x1="690.75" y1="358.2" x2="690.75" y2="356.4" stroke="#000" stroke-width="1.2"/>
<polyline points="508.6,225.9 511.93,225.95 515.26,226 518.59,226.06 521.92,226.12 525.25,226.18 528.58,226.24 531.91,226.31 535.24,226.39 538.57,226.46 541.9,226.54 545.23,226.62 548.56,226.7 551.89,226.79 555.22,226.87 558.55,226.96 561.88,227.05 565.21,227.15 568.54,227.25 571.87,227.36 575.2,227.47 578.53,227.58 581.86,227.7 585.19,227.83 588.52,227.95 591.85,228.08 595.18,228.21 598.51,228.34 601.84,228.47 605.17,228.6 608.5,228.72 611.83,228.85 615.16,228.99 618.49,229.15 621.82,229.33 625.15,229.54 628.48,229.82 631.81,230.28 635.14,231.02 638.47,231.96 641.8,232.99 645.13,234.21 648.46,235.73 651.79,237.68 655.12,240.35 658.45,244.51 661.78,250.59 665.11,257.88 668.44,267.2 671.77,279.5 675.1,292.42 678.43,307.08 681.76,325.63 685.09,343.33 688,357.6" fill="none" stroke="#ff1a1a" stroke-width="1.1"/>
<circle cx="508.6" cy="225.9" r="1.45" fill="none" stroke="#ff1a1a" stroke-width="1.1"/>
<circle cx="511.93" cy="225.95" r="1.45" fill="none" stroke="#ff1a1a" stroke-width="1.1"/>
<circle cx="515.26" cy="226" r="1.45" fill="none" stroke="#ff1a1a" stroke-width="1.1"/>
<circle cx="518.59" cy="226.06" r="1.45" fill="none" stroke="#ff1a1a" stroke-width="1.1"/>
<circle cx="521.92" cy="226.12" r="1.45" fill="none" stroke="#ff1a1a" stroke-width="1.1"/>
<circle cx="525.25" cy="226.18" r="1.45" fill="none" stroke="#ff1a1a" stroke-width="1.1"/>
<circle cx="528.58" cy="226.24" r="1.45" fill="none" stroke="#ff1a1a" stroke-width="1.1"/>
<circle cx="531.91" cy="226.31" r="1.45" fill="none" stroke="#ff1a1a" stroke-width="1.1"/>
<circle cx="535.24" cy="226.39" r="1.45" fill="none" stroke="#ff1a1a" stroke-width="1.1"/>
<circle cx="538.57" cy="226.46" r="1.45" fill="none" stroke="#ff1a1a" stroke-width="1.1"/>
<circle cx="541.9" cy="226.54" r="1.45" fill="none" stroke="#ff1a1a" stroke-width="1.1"/>
<circle cx="545.23" cy="226.62" r="1.45" fill="none" stroke="#ff1a1a" stroke-width="1.1"/>
<circle cx="548.56" cy="226.7" r="1.45" fill="none" stroke="#ff1a1a" stroke-width="1.1"/>
<circle cx="551.89" cy="226.79" r="1.45" fill="none" stroke="#ff1a1a" stroke-width="1.1"/>
<circle cx="555.22" cy="226.87" r="1.45" fill="none" stroke="#ff1a1a" stroke-width="1.1"/>
<circle cx="558.55" cy="226.96" r="1.45" fill="none" stroke="#ff1a1a" stroke-width="1.1"/>
<circle cx="561.88" cy="227.05" r="1.45" fill="none" stroke="#ff1a1a" stroke-width="1.1"/>
<circle cx="565.21" cy="227.15" r="1.45" fill="none" stroke="#ff1a1a" stroke-width="1.1"/>
<circle cx="568.54" cy="227.25" r="1.45" fill="none" stroke="#ff1a1a" stroke-width="1.1"/>
<circle cx="571.87" cy="227.36" r="1.45" fill="none" stroke="#ff1a1a" stroke-width="1.1"/>
<circle cx="575.2" cy="227.47" r="1.45" fill="none" stroke="#ff1a1a" stroke-width="1.1"/>
<circle cx="578.53" cy="227.58" r="1.45" fill="none" stroke="#ff1a1a" stroke-width="1.1"/>
<circle cx="581.86" cy="227.7" r="1.45" fill="none" stroke="#ff1a1a" stroke-width="1.1"/>
<circle cx="585.19" cy="227.83" r="1.45" fill="none" stroke="#ff1a1a" stroke-width="1.1"/>
<circle cx="588.52" cy="227.95" r="1.45" fill="none" stroke="#ff1a1a" stroke-width="1.1"/>
<circle cx="591.85" cy="228.08" r="1.45" fill="none" stroke="#ff1a1a" stroke-width="1.1"/>
<circle cx="595.18" cy="228.21" r="1.45" fill="none" stroke="#ff1a1a" stroke-width="1.1"/>
<circle cx="598.51" cy="228.34" r="1.45" fill="none" stroke="#ff1a1a" stroke-width="1.1"/>
<circle cx="601.84" cy="228.47" r="1.45" fill="none" stroke="#ff1a1a" stroke-width="1.1"/>
<circle cx="605.17" cy="228.6" r="1.45" fill="none" stroke="#ff1a1a" stroke-width="1.1"/>
<circle cx="608.5" cy="228.72" r="1.45" fill="none" stroke="#ff1a1a" stroke-width="1.1"/>
<circle cx="611.83" cy="228.85" r="1.45" fill="none" stroke="#ff1a1a" stroke-width="1.1"/>
<circle cx="615.16" cy="228.99" r="1.45" fill="none" stroke="#ff1a1a" stroke-width="1.1"/>
<circle cx="618.49" cy="229.15" r="1.45" fill="none" stroke="#ff1a1a" stroke-width="1.1"/>
<circle cx="621.82" cy="229.33" r="1.45" fill="none" stroke="#ff1a1a" stroke-width="1.1"/>
<circle cx="625.15" cy="229.54" r="1.45" fill="none" stroke="#ff1a1a" stroke-width="1.1"/>
<circle cx="628.48" cy="229.82" r="1.45" fill="none" stroke="#ff1a1a" stroke-width="1.1"/>
<circle cx="631.81" cy="230.28" r="1.45" fill="none" stroke="#ff1a1a" stroke-width="1.1"/>
<circle cx="635.14" cy="231.02" r="1.45" fill="none" stroke="#ff1a1a" stroke-width="1.1"/>
<circle cx="638.47" cy="231.96" r="1.45" fill="none" stroke="#ff1a1a" stroke-width="1.1"/>
<circle cx="641.8" cy="232.99" r="1.45" fill="none" stroke="#ff1a1a" stroke-width="1.1"/>
<circle cx="645.13" cy="234.21" r="1.45" fill="none" stroke="#ff1a1a" stroke-width="1.1"/>
<circle cx="648.46" cy="235.73" r="1.45" fill="none" stroke="#ff1a1a" stroke-width="1.1"/>
<circle cx="651.79" cy="237.68" r="1.45" fill="none" stroke="#ff1a1a" stroke-width="1.1"/>
<circle cx="655.12" cy="240.35" r="1.45" fill="none" stroke="#ff1a1a" stroke-width="1.1"/>
<circle cx="658.45" cy="244.51" r="1.45" fill="none" stroke="#ff1a1a" stroke-width="1.1"/>
<circle cx="661.78" cy="250.59" r="1.45" fill="none" stroke="#ff1a1a" stroke-width="1.1"/>
<circle cx="665.11" cy="257.88" r="1.45" fill="none" stroke="#ff1a1a" stroke-width="1.1"/>
<circle cx="668.44" cy="267.2" r="1.45" fill="none" stroke="#ff1a1a" stroke-width="1.1"/>
<circle cx="671.77" cy="279.5" r="1.45" fill="none" stroke="#ff1a1a" stroke-width="1.1"/>
<circle cx="675.1" cy="292.42" r="1.45" fill="none" stroke="#ff1a1a" stroke-width="1.1"/>
<circle cx="678.43" cy="307.08" r="1.45" fill="none" stroke="#ff1a1a" stroke-width="1.1"/>
<circle cx="681.76" cy="325.63" r="1.45" fill="none" stroke="#ff1a1a" stroke-width="1.1"/>
<circle cx="685.09" cy="343.33" r="1.45" fill="none" stroke="#ff1a1a" stroke-width="1.1"/>
<circle cx="688" cy="357.6" r="1.45" fill="none" stroke="#ff1a1a" stroke-width="1.1"/>
<polyline points="508.6,245.5 511.93,245.59 515.26,245.72 518.59,245.89 521.92,246.08 525.25,246.3 528.58,246.54 531.91,246.8 535.24,247.07 538.57,247.36 541.9,247.65 545.23,247.99 548.56,248.38 551.89,248.81 555.22,249.28 558.55,249.78 561.88,250.32 565.21,250.88 568.54,251.47 571.87,252.06 575.2,252.67 578.53,253.29 581.86,253.93 585.19,254.61 588.52,255.32 591.85,256.08 595.18,256.87 598.51,257.71 601.84,258.6 605.17,259.54 608.5,260.57 611.83,261.73 615.16,262.97 618.49,264.28 621.82,265.66 625.15,267.12 628.48,268.76 631.81,270.73 635.14,273.16 638.47,275.67 641.8,278.2 645.13,281.09 648.46,284.56 651.79,288.81 655.12,293.58 658.45,298.07 661.78,302.54 665.11,307.18 668.44,312.81 671.77,319.3 675.1,326.95 678.43,334.64 681.76,341.72 685.09,348.28 688,357.6" fill="none" stroke="#000" stroke-width="1.1"/>
<circle cx="508.6" cy="245.5" r="1.45" fill="none" stroke="#000" stroke-width="1.1"/>
<circle cx="511.93" cy="245.59" r="1.45" fill="none" stroke="#000" stroke-width="1.1"/>
<circle cx="515.26" cy="245.72" r="1.45" fill="none" stroke="#000" stroke-width="1.1"/>
<circle cx="518.59" cy="245.89" r="1.45" fill="none" stroke="#000" stroke-width="1.1"/>
<circle cx="521.92" cy="246.08" r="1.45" fill="none" stroke="#000" stroke-width="1.1"/>
<circle cx="525.25" cy="246.3" r="1.45" fill="none" stroke="#000" stroke-width="1.1"/>
<circle cx="528.58" cy="246.54" r="1.45" fill="none" stroke="#000" stroke-width="1.1"/>
<circle cx="531.91" cy="246.8" r="1.45" fill="none" stroke="#000" stroke-width="1.1"/>
<circle cx="535.24" cy="247.07" r="1.45" fill="none" stroke="#000" stroke-width="1.1"/>
<circle cx="538.57" cy="247.36" r="1.45" fill="none" stroke="#000" stroke-width="1.1"/>
<circle cx="541.9" cy="247.65" r="1.45" fill="none" stroke="#000" stroke-width="1.1"/>
<circle cx="545.23" cy="247.99" r="1.45" fill="none" stroke="#000" stroke-width="1.1"/>
<circle cx="548.56" cy="248.38" r="1.45" fill="none" stroke="#000" stroke-width="1.1"/>
<circle cx="551.89" cy="248.81" r="1.45" fill="none" stroke="#000" stroke-width="1.1"/>
<circle cx="555.22" cy="249.28" r="1.45" fill="none" stroke="#000" stroke-width="1.1"/>
<circle cx="558.55" cy="249.78" r="1.45" fill="none" stroke="#000" stroke-width="1.1"/>
<circle cx="561.88" cy="250.32" r="1.45" fill="none" stroke="#000" stroke-width="1.1"/>
<circle cx="565.21" cy="250.88" r="1.45" fill="none" stroke="#000" stroke-width="1.1"/>
<circle cx="568.54" cy="251.47" r="1.45" fill="none" stroke="#000" stroke-width="1.1"/>
<circle cx="571.87" cy="252.06" r="1.45" fill="none" stroke="#000" stroke-width="1.1"/>
<circle cx="575.2" cy="252.67" r="1.45" fill="none" stroke="#000" stroke-width="1.1"/>
<circle cx="578.53" cy="253.29" r="1.45" fill="none" stroke="#000" stroke-width="1.1"/>
<circle cx="581.86" cy="253.93" r="1.45" fill="none" stroke="#000" stroke-width="1.1"/>
<circle cx="585.19" cy="254.61" r="1.45" fill="none" stroke="#000" stroke-width="1.1"/>
<circle cx="588.52" cy="255.32" r="1.45" fill="none" stroke="#000" stroke-width="1.1"/>
<circle cx="591.85" cy="256.08" r="1.45" fill="none" stroke="#000" stroke-width="1.1"/>
<circle cx="595.18" cy="256.87" r="1.45" fill="none" stroke="#000" stroke-width="1.1"/>
<circle cx="598.51" cy="257.71" r="1.45" fill="none" stroke="#000" stroke-width="1.1"/>
<circle cx="601.84" cy="258.6" r="1.45" fill="none" stroke="#000" stroke-width="1.1"/>
<circle cx="605.17" cy="259.54" r="1.45" fill="none" stroke="#000" stroke-width="1.1"/>
<circle cx="608.5" cy="260.57" r="1.45" fill="none" stroke="#000" stroke-width="1.1"/>
<circle cx="611.83" cy="261.73" r="1.45" fill="none" stroke="#000" stroke-width="1.1"/>
<circle cx="615.16" cy="262.97" r="1.45" fill="none" stroke="#000" stroke-width="1.1"/>
<circle cx="618.49" cy="264.28" r="1.45" fill="none" stroke="#000" stroke-width="1.1"/>
<circle cx="621.82" cy="265.66" r="1.45" fill="none" stroke="#000" stroke-width="1.1"/>
<circle cx="625.15" cy="267.12" r="1.45" fill="none" stroke="#000" stroke-width="1.1"/>
<circle cx="628.48" cy="268.76" r="1.45" fill="none" stroke="#000" stroke-width="1.1"/>
<circle cx="631.81" cy="270.73" r="1.45" fill="none" stroke="#000" stroke-width="1.1"/>
<circle cx="635.14" cy="273.16" r="1.45" fill="none" stroke="#000" stroke-width="1.1"/>
<circle cx="638.47" cy="275.67" r="1.45" fill="none" stroke="#000" stroke-width="1.1"/>
<circle cx="641.8" cy="278.2" r="1.45" fill="none" stroke="#000" stroke-width="1.1"/>
<circle cx="645.13" cy="281.09" r="1.45" fill="none" stroke="#000" stroke-width="1.1"/>
<circle cx="648.46" cy="284.56" r="1.45" fill="none" stroke="#000" stroke-width="1.1"/>
<circle cx="651.79" cy="288.81" r="1.45" fill="none" stroke="#000" stroke-width="1.1"/>
<circle cx="655.12" cy="293.58" r="1.45" fill="none" stroke="#000" stroke-width="1.1"/>
<circle cx="658.45" cy="298.07" r="1.45" fill="none" stroke="#000" stroke-width="1.1"/>
<circle cx="661.78" cy="302.54" r="1.45" fill="none" stroke="#000" stroke-width="1.1"/>
<circle cx="665.11" cy="307.18" r="1.45" fill="none" stroke="#000" stroke-width="1.1"/>
<circle cx="668.44" cy="312.81" r="1.45" fill="none" stroke="#000" stroke-width="1.1"/>
<circle cx="671.77" cy="319.3" r="1.45" fill="none" stroke="#000" stroke-width="1.1"/>
<circle cx="675.1" cy="326.95" r="1.45" fill="none" stroke="#000" stroke-width="1.1"/>
<circle cx="678.43" cy="334.64" r="1.45" fill="none" stroke="#000" stroke-width="1.1"/>
<circle cx="681.76" cy="341.72" r="1.45" fill="none" stroke="#000" stroke-width="1.1"/>
<circle cx="685.09" cy="348.28" r="1.45" fill="none" stroke="#000" stroke-width="1.1"/>
<circle cx="688" cy="357.6" r="1.45" fill="none" stroke="#000" stroke-width="1.1"/>
<rect x="507.7" y="199.3" width="190.6" height="158.9" fill="none" stroke="#000" stroke-width="2"/>
<line x1="521.1" y1="321.9" x2="539.4" y2="321.9" stroke="#111" stroke-width="1.5"/>
<circle cx="530.25" cy="321.9" r="1.25" fill="none" stroke="#111" stroke-width="1.2"/>
<text x="541.6" y="324.6" font-size="10" font-weight="bold" text-anchor="start" textLength="62" lengthAdjust="spacingAndGlyphs" >C<tspan font-size="8" dy="2.5">60</tspan><tspan dy="-2.5">/SnO</tspan><tspan font-size="8" dy="2.5">2</tspan><tspan dy="-2.5">/ITO</tspan></text>
<line x1="521.1" y1="338.1" x2="539.4" y2="338.1" stroke="#ff1a1a" stroke-width="1.5"/>
<circle cx="530.25" cy="338.1" r="1.25" fill="none" stroke="#ff1a1a" stroke-width="1.2"/>
<text x="541.6" y="340.8" font-size="10" font-weight="bold" text-anchor="start" textLength="58.6" lengthAdjust="spacingAndGlyphs" >C<tspan font-size="8" dy="2.5">60</tspan><tspan dy="-2.5">/SnO</tspan><tspan font-size="8" dy="2.5">2</tspan><tspan dy="-2.5">/IAI</tspan></text>
<text x="603.2" y="382.8" font-size="13.7" font-weight="bold" text-anchor="middle" textLength="59" lengthAdjust="spacingAndGlyphs" >Voltage (V)</text>
<text x="0" y="0" font-size="13" font-weight="bold" text-anchor="start" textLength="162" lengthAdjust="spacingAndGlyphs" transform="translate(490.2,360.7) rotate(-90)">Current Density (mA/cm<tspan font-size="9" dy="-5">2</tspan><tspan dy="5">)</tspan></text>
</svg></body></html>
